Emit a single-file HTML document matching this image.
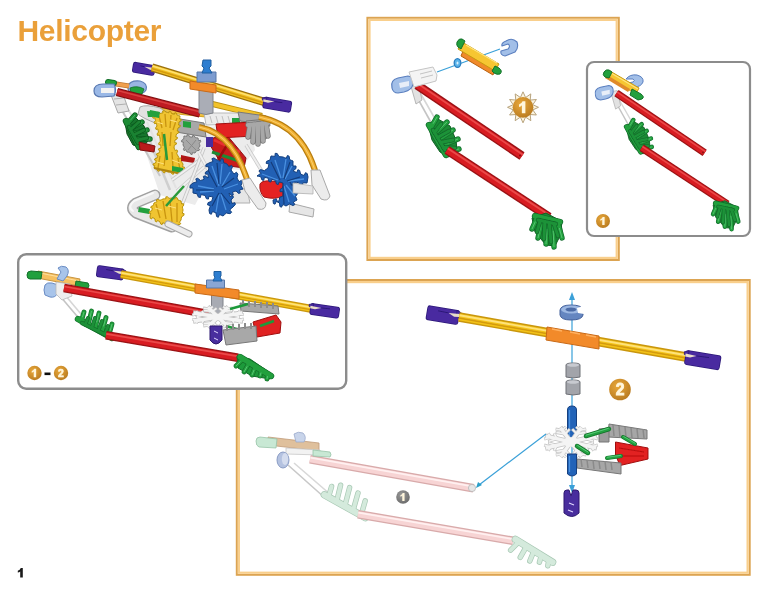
<!DOCTYPE html>
<html><head><meta charset="utf-8">
<style>
html,body{margin:0;padding:0;background:#fff;width:768px;height:593px;overflow:hidden;}
body{position:relative;font-family:"Liberation Sans",sans-serif;}
.title{position:absolute;left:17.5px;top:13.5px;font-size:30px;font-weight:bold;color:#eaa03a;letter-spacing:-0.3px;filter:blur(0.35px);}
.pg{position:absolute;left:17px;top:566px;font-size:13px;font-weight:bold;color:#222;}
svg{position:absolute;left:0;top:0;}
</style></head><body>
<svg width="768" height="593" viewBox="0 0 768 593">
<defs>
<filter id="soft" x="-5%" y="-5%" width="110%" height="110%"><feGaussianBlur stdDeviation="0.7"/></filter>
<radialGradient id="bgold" cx="0.4" cy="0.35" r="0.7"><stop offset="0" stop-color="#e9a83a"/><stop offset="1" stop-color="#b87a20"/></radialGradient>
<radialGradient id="bgray" cx="0.4" cy="0.35" r="0.7"><stop offset="0" stop-color="#9a9a9a"/><stop offset="1" stop-color="#6a6a6a"/></radialGradient>
</defs>
<rect x="236.8" y="280" width="512.9" height="294.8" fill="none" stroke="#dca452" stroke-width="2"/><rect x="238.9" y="282.1" width="508.7" height="290.6" fill="none" stroke="#f9cf8c" stroke-width="2.2"/>
<rect x="367.4" y="17.8" width="251.4" height="242.2" fill="none" stroke="#dca452" stroke-width="2"/><rect x="369.5" y="19.900000000000002" width="247.2" height="238.0" fill="none" stroke="#f9cf8c" stroke-width="2.2"/>
<g filter="url(#soft)"><line x1="413" y1="90" x2="433" y2="126" stroke="#c4c4c4" stroke-width="1.6"/>
<line x1="418" y1="89" x2="438" y2="124" stroke="#d6d6d6" stroke-width="1.6"/>
<path d="M410,83 L418,82 L422,100 L416,104 Z" fill="#e2e2e2" stroke="#a8a8a8" stroke-width="0.8" stroke-linejoin="round"/>
<line x1="417" y1="85" x2="522" y2="156" stroke="#9a1214" stroke-width="9" stroke-linecap="butt"/>
<line x1="417" y1="85" x2="522" y2="156" stroke="#d81e22" stroke-width="6.30" stroke-linecap="butt"/>
<line x1="417.9" y1="83.7" x2="522.9" y2="154.7" stroke="#ea4a4a" stroke-width="1.80"/>
<circle cx="520" cy="155.5" r="1" fill="#801010"/>
<path d="M428,124 L438,119 L450,126 L456,140 L457,150 L449,157 L440,152 L432,140 Z" fill="#1a8a34" stroke="#0f5e22" stroke-width="1" stroke-linejoin="round"/>
<line x1="429.0" y1="125.0" x2="446.0" y2="155.0" stroke="#11682a" stroke-width="6.4" stroke-linecap="round"/>
<line x1="430.7" y1="128.0" x2="437.0" y2="117.0" stroke="#11682a" stroke-width="5.4" stroke-linecap="round"/>
<line x1="434.1" y1="134.0" x2="447.0" y2="122.0" stroke="#11682a" stroke-width="5.4" stroke-linecap="round"/>
<line x1="437.5" y1="140.0" x2="453.0" y2="130.0" stroke="#11682a" stroke-width="5.4" stroke-linecap="round"/>
<line x1="440.9" y1="146.0" x2="458.0" y2="139.0" stroke="#11682a" stroke-width="5.4" stroke-linecap="round"/>
<line x1="444.3" y1="152.0" x2="459.0" y2="149.0" stroke="#11682a" stroke-width="5.4" stroke-linecap="round"/>
<line x1="429.0" y1="125.0" x2="446.0" y2="155.0" stroke="#22a03e" stroke-width="5.0" stroke-linecap="round"/>
<line x1="430.7" y1="128.0" x2="437.0" y2="117.0" stroke="#22a03e" stroke-width="4.0" stroke-linecap="round"/>
<line x1="434.1" y1="134.0" x2="447.0" y2="122.0" stroke="#22a03e" stroke-width="4.0" stroke-linecap="round"/>
<line x1="437.5" y1="140.0" x2="453.0" y2="130.0" stroke="#22a03e" stroke-width="4.0" stroke-linecap="round"/>
<line x1="440.9" y1="146.0" x2="458.0" y2="139.0" stroke="#22a03e" stroke-width="4.0" stroke-linecap="round"/>
<line x1="444.3" y1="152.0" x2="459.0" y2="149.0" stroke="#22a03e" stroke-width="4.0" stroke-linecap="round"/>
<line x1="433.2" y1="123.6" x2="437.0" y2="117.0" stroke="#5cc878" stroke-width="0.9"/>
<line x1="439.3" y1="129.2" x2="447.0" y2="122.0" stroke="#5cc878" stroke-width="0.9"/>
<line x1="443.7" y1="136.0" x2="453.0" y2="130.0" stroke="#5cc878" stroke-width="0.9"/>
<line x1="447.7" y1="143.2" x2="458.0" y2="139.0" stroke="#5cc878" stroke-width="0.9"/>
<line x1="450.2" y1="150.8" x2="459.0" y2="149.0" stroke="#5cc878" stroke-width="0.9"/>
<line x1="433.0" y1="130.0" x2="445.0" y2="150.0" stroke="#11682a" stroke-width="4.4" stroke-linecap="round"/>
<line x1="434.5" y1="132.5" x2="441.0" y2="124.0" stroke="#11682a" stroke-width="4.4" stroke-linecap="round"/>
<line x1="437.5" y1="137.5" x2="449.0" y2="131.0" stroke="#11682a" stroke-width="4.4" stroke-linecap="round"/>
<line x1="440.5" y1="142.5" x2="453.0" y2="140.0" stroke="#11682a" stroke-width="4.4" stroke-linecap="round"/>
<line x1="443.5" y1="147.5" x2="455.0" y2="148.0" stroke="#11682a" stroke-width="4.4" stroke-linecap="round"/>
<line x1="433.0" y1="130.0" x2="445.0" y2="150.0" stroke="#1d9238" stroke-width="3.0" stroke-linecap="round"/>
<line x1="434.5" y1="132.5" x2="441.0" y2="124.0" stroke="#1d9238" stroke-width="3.0" stroke-linecap="round"/>
<line x1="437.5" y1="137.5" x2="449.0" y2="131.0" stroke="#1d9238" stroke-width="3.0" stroke-linecap="round"/>
<line x1="440.5" y1="142.5" x2="453.0" y2="140.0" stroke="#1d9238" stroke-width="3.0" stroke-linecap="round"/>
<line x1="443.5" y1="147.5" x2="455.0" y2="148.0" stroke="#1d9238" stroke-width="3.0" stroke-linecap="round"/>
<line x1="447" y1="150" x2="549" y2="217" stroke="#9a1214" stroke-width="9" stroke-linecap="butt"/>
<line x1="447" y1="150" x2="549" y2="217" stroke="#d81e22" stroke-width="6.30" stroke-linecap="butt"/>
<line x1="447.9" y1="148.6" x2="549.9" y2="215.6" stroke="#ea4a4a" stroke-width="1.80"/>
<path d="M532,218 L546,213 L561,221 L562,232 L555,246 L546,245 L535,232 Z" fill="#1a8a34" stroke="#0f5e22" stroke-width="1" stroke-linejoin="round"/>
<line x1="535.0" y1="216.0" x2="560.0" y2="222.0" stroke="#11682a" stroke-width="6.4" stroke-linecap="round"/>
<line x1="537.5" y1="216.6" x2="532.0" y2="229.0" stroke="#11682a" stroke-width="5.4" stroke-linecap="round"/>
<line x1="542.5" y1="217.8" x2="538.0" y2="238.0" stroke="#11682a" stroke-width="5.4" stroke-linecap="round"/>
<line x1="547.5" y1="219.0" x2="546.0" y2="244.0" stroke="#11682a" stroke-width="5.4" stroke-linecap="round"/>
<line x1="552.5" y1="220.2" x2="554.0" y2="247.0" stroke="#11682a" stroke-width="5.4" stroke-linecap="round"/>
<line x1="557.5" y1="221.4" x2="562.0" y2="238.0" stroke="#11682a" stroke-width="5.4" stroke-linecap="round"/>
<line x1="535.0" y1="216.0" x2="560.0" y2="222.0" stroke="#22a03e" stroke-width="5.0" stroke-linecap="round"/>
<line x1="537.5" y1="216.6" x2="532.0" y2="229.0" stroke="#22a03e" stroke-width="4.0" stroke-linecap="round"/>
<line x1="542.5" y1="217.8" x2="538.0" y2="238.0" stroke="#22a03e" stroke-width="4.0" stroke-linecap="round"/>
<line x1="547.5" y1="219.0" x2="546.0" y2="244.0" stroke="#22a03e" stroke-width="4.0" stroke-linecap="round"/>
<line x1="552.5" y1="220.2" x2="554.0" y2="247.0" stroke="#22a03e" stroke-width="4.0" stroke-linecap="round"/>
<line x1="557.5" y1="221.4" x2="562.0" y2="238.0" stroke="#22a03e" stroke-width="4.0" stroke-linecap="round"/>
<line x1="535.3" y1="221.6" x2="532.0" y2="229.0" stroke="#5cc878" stroke-width="0.9"/>
<line x1="540.7" y1="225.9" x2="538.0" y2="238.0" stroke="#5cc878" stroke-width="0.9"/>
<line x1="546.9" y1="229.0" x2="546.0" y2="244.0" stroke="#5cc878" stroke-width="0.9"/>
<line x1="553.1" y1="230.9" x2="554.0" y2="247.0" stroke="#5cc878" stroke-width="0.9"/>
<line x1="559.3" y1="228.0" x2="562.0" y2="238.0" stroke="#5cc878" stroke-width="0.9"/>
<line x1="538.0" y1="220.0" x2="556.0" y2="224.0" stroke="#11682a" stroke-width="4.4" stroke-linecap="round"/>
<line x1="540.2" y1="220.5" x2="537.0" y2="232.0" stroke="#11682a" stroke-width="4.4" stroke-linecap="round"/>
<line x1="544.8" y1="221.5" x2="544.0" y2="239.0" stroke="#11682a" stroke-width="4.4" stroke-linecap="round"/>
<line x1="549.2" y1="222.5" x2="551.0" y2="242.0" stroke="#11682a" stroke-width="4.4" stroke-linecap="round"/>
<line x1="553.8" y1="223.5" x2="558.0" y2="236.0" stroke="#11682a" stroke-width="4.4" stroke-linecap="round"/>
<line x1="538.0" y1="220.0" x2="556.0" y2="224.0" stroke="#1d9238" stroke-width="3.0" stroke-linecap="round"/>
<line x1="540.2" y1="220.5" x2="537.0" y2="232.0" stroke="#1d9238" stroke-width="3.0" stroke-linecap="round"/>
<line x1="544.8" y1="221.5" x2="544.0" y2="239.0" stroke="#1d9238" stroke-width="3.0" stroke-linecap="round"/>
<line x1="549.2" y1="222.5" x2="551.0" y2="242.0" stroke="#1d9238" stroke-width="3.0" stroke-linecap="round"/>
<line x1="553.8" y1="223.5" x2="558.0" y2="236.0" stroke="#1d9238" stroke-width="3.0" stroke-linecap="round"/>
<path d="M392,88 Q390,80 398,78 L408,76 Q414,77 413,84 Q412,90 404,92 L398,93 Q393,93 392,88 Z" fill="#a2bfe8" stroke="#5a7fbf" stroke-width="1.2" stroke-linejoin="round"/>
<path d="M399,83 L409,81 L409,86 L400,88 Z" fill="#e8eef8"/>
<line x1="437" y1="72" x2="500" y2="49" stroke="#3aa0d8" stroke-width="1.3"/>
<path d="M409,72 L433,67 L437,75 L436,81 L414,87 Z" fill="#f4f4f4" stroke="#c4c4c4" stroke-width="1" stroke-linejoin="round"/>
<path d="M420,74 L432,71 M421,78 L433,75" fill="none" stroke="#b8b8b8" stroke-width="0.8" stroke-linejoin="round"/>
<ellipse cx="457.5" cy="63" rx="3.3" ry="4.3" fill="#5ab4ea" stroke="#2a7ec0" stroke-width="1.3"/>
<ellipse cx="457.5" cy="63" rx="1" ry="1.6" fill="#d8f0ff"/>
<path d="M463,51 L495,70 L493,75 L461,56 Z" fill="#f08a2a" stroke="#b86010" stroke-width="1" stroke-linejoin="round"/>
<path d="M462,42 L499,64 L495,71 L458,49 Z" fill="#f6c630" stroke="#c89a10" stroke-width="1" stroke-linejoin="round"/>
<path d="M466,45 L497,63" fill="none" stroke="#ffe480" stroke-width="1.2" stroke-linejoin="round"/>
<path d="M457,42 Q459,38 462,39 L465,41 L461,49 L458,47 Q456,45 457,42 Z" fill="#22a03c" stroke="#13702a" stroke-width="1" stroke-linejoin="round"/>
<path d="M495,66 L499,68 Q503,71 500,74 Q497,75 494,73 L492,71 Z" fill="#22a03c" stroke="#13702a" stroke-width="1" stroke-linejoin="round"/>
<path d="M506,41 Q512,37 517,42 Q519,48 515,52 L505,56 Q500,55 501,51 L508,49 Q511,46 508,44 L502,46 Q501,43 506,41 Z" fill="#a2bfe8" stroke="#5a7fbf" stroke-width="1.1" stroke-linejoin="round"/>
<polygon points="523.0,91.8 525.6,97.5 530.8,93.9 530.2,100.1 536.4,99.5 532.8,104.7 538.5,107.3 532.8,109.9 536.4,115.0 530.2,114.5 530.8,120.7 525.6,117.1 523.0,122.8 520.4,117.1 515.2,120.7 515.8,114.5 509.6,115.0 513.2,109.9 507.5,107.3 513.2,104.7 509.6,99.5 515.8,100.1 515.2,93.9 520.4,97.5" fill="#fbf3de" stroke="#b09a70" stroke-width="0.9" stroke-linejoin="round"/>
<circle cx="523" cy="107.3" r="10.4" fill="url(#bgold)"/>
<path d="M521.86,113.33 L525.39,113.33 L525.39,101.27 L522.56,101.27 Q521.33,103.98 519.03,104.59 L519.03,107.00 Q520.80,106.70 521.86,105.19 Z" fill="#fff6dc"/>
</g>
<rect x="587" y="62" width="163" height="174" rx="7" fill="#fff" stroke="#8c8c8c" stroke-width="2.2"/>
<g filter="url(#soft)">
<g transform="translate(619,94) scale(0.84) translate(-420,-86)">
<line x1="413" y1="90" x2="433" y2="126" stroke="#c4c4c4" stroke-width="1.6"/>
<line x1="418" y1="89" x2="438" y2="124" stroke="#d6d6d6" stroke-width="1.6"/>
<path d="M410,83 L418,82 L422,100 L416,104 Z" fill="#e2e2e2" stroke="#a8a8a8" stroke-width="0.8" stroke-linejoin="round"/>
<line x1="417" y1="85" x2="522" y2="156" stroke="#9a1214" stroke-width="9" stroke-linecap="butt"/>
<line x1="417" y1="85" x2="522" y2="156" stroke="#d81e22" stroke-width="6.30" stroke-linecap="butt"/>
<line x1="417.9" y1="83.7" x2="522.9" y2="154.7" stroke="#ea4a4a" stroke-width="1.80"/>
<circle cx="520" cy="155.5" r="1" fill="#801010"/>
<path d="M428,124 L438,119 L450,126 L456,140 L457,150 L449,157 L440,152 L432,140 Z" fill="#1a8a34" stroke="#0f5e22" stroke-width="1" stroke-linejoin="round"/>
<line x1="429.0" y1="125.0" x2="446.0" y2="155.0" stroke="#11682a" stroke-width="6.4" stroke-linecap="round"/>
<line x1="430.7" y1="128.0" x2="437.0" y2="117.0" stroke="#11682a" stroke-width="5.4" stroke-linecap="round"/>
<line x1="434.1" y1="134.0" x2="447.0" y2="122.0" stroke="#11682a" stroke-width="5.4" stroke-linecap="round"/>
<line x1="437.5" y1="140.0" x2="453.0" y2="130.0" stroke="#11682a" stroke-width="5.4" stroke-linecap="round"/>
<line x1="440.9" y1="146.0" x2="458.0" y2="139.0" stroke="#11682a" stroke-width="5.4" stroke-linecap="round"/>
<line x1="444.3" y1="152.0" x2="459.0" y2="149.0" stroke="#11682a" stroke-width="5.4" stroke-linecap="round"/>
<line x1="429.0" y1="125.0" x2="446.0" y2="155.0" stroke="#22a03e" stroke-width="5.0" stroke-linecap="round"/>
<line x1="430.7" y1="128.0" x2="437.0" y2="117.0" stroke="#22a03e" stroke-width="4.0" stroke-linecap="round"/>
<line x1="434.1" y1="134.0" x2="447.0" y2="122.0" stroke="#22a03e" stroke-width="4.0" stroke-linecap="round"/>
<line x1="437.5" y1="140.0" x2="453.0" y2="130.0" stroke="#22a03e" stroke-width="4.0" stroke-linecap="round"/>
<line x1="440.9" y1="146.0" x2="458.0" y2="139.0" stroke="#22a03e" stroke-width="4.0" stroke-linecap="round"/>
<line x1="444.3" y1="152.0" x2="459.0" y2="149.0" stroke="#22a03e" stroke-width="4.0" stroke-linecap="round"/>
<line x1="433.2" y1="123.6" x2="437.0" y2="117.0" stroke="#5cc878" stroke-width="0.9"/>
<line x1="439.3" y1="129.2" x2="447.0" y2="122.0" stroke="#5cc878" stroke-width="0.9"/>
<line x1="443.7" y1="136.0" x2="453.0" y2="130.0" stroke="#5cc878" stroke-width="0.9"/>
<line x1="447.7" y1="143.2" x2="458.0" y2="139.0" stroke="#5cc878" stroke-width="0.9"/>
<line x1="450.2" y1="150.8" x2="459.0" y2="149.0" stroke="#5cc878" stroke-width="0.9"/>
<line x1="433.0" y1="130.0" x2="445.0" y2="150.0" stroke="#11682a" stroke-width="4.4" stroke-linecap="round"/>
<line x1="434.5" y1="132.5" x2="441.0" y2="124.0" stroke="#11682a" stroke-width="4.4" stroke-linecap="round"/>
<line x1="437.5" y1="137.5" x2="449.0" y2="131.0" stroke="#11682a" stroke-width="4.4" stroke-linecap="round"/>
<line x1="440.5" y1="142.5" x2="453.0" y2="140.0" stroke="#11682a" stroke-width="4.4" stroke-linecap="round"/>
<line x1="443.5" y1="147.5" x2="455.0" y2="148.0" stroke="#11682a" stroke-width="4.4" stroke-linecap="round"/>
<line x1="433.0" y1="130.0" x2="445.0" y2="150.0" stroke="#1d9238" stroke-width="3.0" stroke-linecap="round"/>
<line x1="434.5" y1="132.5" x2="441.0" y2="124.0" stroke="#1d9238" stroke-width="3.0" stroke-linecap="round"/>
<line x1="437.5" y1="137.5" x2="449.0" y2="131.0" stroke="#1d9238" stroke-width="3.0" stroke-linecap="round"/>
<line x1="440.5" y1="142.5" x2="453.0" y2="140.0" stroke="#1d9238" stroke-width="3.0" stroke-linecap="round"/>
<line x1="443.5" y1="147.5" x2="455.0" y2="148.0" stroke="#1d9238" stroke-width="3.0" stroke-linecap="round"/>
<line x1="447" y1="150" x2="549" y2="217" stroke="#9a1214" stroke-width="9" stroke-linecap="butt"/>
<line x1="447" y1="150" x2="549" y2="217" stroke="#d81e22" stroke-width="6.30" stroke-linecap="butt"/>
<line x1="447.9" y1="148.6" x2="549.9" y2="215.6" stroke="#ea4a4a" stroke-width="1.80"/>
<path d="M532,218 L546,213 L561,221 L562,232 L555,246 L546,245 L535,232 Z" fill="#1a8a34" stroke="#0f5e22" stroke-width="1" stroke-linejoin="round"/>
<line x1="535.0" y1="216.0" x2="560.0" y2="222.0" stroke="#11682a" stroke-width="6.4" stroke-linecap="round"/>
<line x1="537.5" y1="216.6" x2="532.0" y2="229.0" stroke="#11682a" stroke-width="5.4" stroke-linecap="round"/>
<line x1="542.5" y1="217.8" x2="538.0" y2="238.0" stroke="#11682a" stroke-width="5.4" stroke-linecap="round"/>
<line x1="547.5" y1="219.0" x2="546.0" y2="244.0" stroke="#11682a" stroke-width="5.4" stroke-linecap="round"/>
<line x1="552.5" y1="220.2" x2="554.0" y2="247.0" stroke="#11682a" stroke-width="5.4" stroke-linecap="round"/>
<line x1="557.5" y1="221.4" x2="562.0" y2="238.0" stroke="#11682a" stroke-width="5.4" stroke-linecap="round"/>
<line x1="535.0" y1="216.0" x2="560.0" y2="222.0" stroke="#22a03e" stroke-width="5.0" stroke-linecap="round"/>
<line x1="537.5" y1="216.6" x2="532.0" y2="229.0" stroke="#22a03e" stroke-width="4.0" stroke-linecap="round"/>
<line x1="542.5" y1="217.8" x2="538.0" y2="238.0" stroke="#22a03e" stroke-width="4.0" stroke-linecap="round"/>
<line x1="547.5" y1="219.0" x2="546.0" y2="244.0" stroke="#22a03e" stroke-width="4.0" stroke-linecap="round"/>
<line x1="552.5" y1="220.2" x2="554.0" y2="247.0" stroke="#22a03e" stroke-width="4.0" stroke-linecap="round"/>
<line x1="557.5" y1="221.4" x2="562.0" y2="238.0" stroke="#22a03e" stroke-width="4.0" stroke-linecap="round"/>
<line x1="535.3" y1="221.6" x2="532.0" y2="229.0" stroke="#5cc878" stroke-width="0.9"/>
<line x1="540.7" y1="225.9" x2="538.0" y2="238.0" stroke="#5cc878" stroke-width="0.9"/>
<line x1="546.9" y1="229.0" x2="546.0" y2="244.0" stroke="#5cc878" stroke-width="0.9"/>
<line x1="553.1" y1="230.9" x2="554.0" y2="247.0" stroke="#5cc878" stroke-width="0.9"/>
<line x1="559.3" y1="228.0" x2="562.0" y2="238.0" stroke="#5cc878" stroke-width="0.9"/>
<line x1="538.0" y1="220.0" x2="556.0" y2="224.0" stroke="#11682a" stroke-width="4.4" stroke-linecap="round"/>
<line x1="540.2" y1="220.5" x2="537.0" y2="232.0" stroke="#11682a" stroke-width="4.4" stroke-linecap="round"/>
<line x1="544.8" y1="221.5" x2="544.0" y2="239.0" stroke="#11682a" stroke-width="4.4" stroke-linecap="round"/>
<line x1="549.2" y1="222.5" x2="551.0" y2="242.0" stroke="#11682a" stroke-width="4.4" stroke-linecap="round"/>
<line x1="553.8" y1="223.5" x2="558.0" y2="236.0" stroke="#11682a" stroke-width="4.4" stroke-linecap="round"/>
<line x1="538.0" y1="220.0" x2="556.0" y2="224.0" stroke="#1d9238" stroke-width="3.0" stroke-linecap="round"/>
<line x1="540.2" y1="220.5" x2="537.0" y2="232.0" stroke="#1d9238" stroke-width="3.0" stroke-linecap="round"/>
<line x1="544.8" y1="221.5" x2="544.0" y2="239.0" stroke="#1d9238" stroke-width="3.0" stroke-linecap="round"/>
<line x1="549.2" y1="222.5" x2="551.0" y2="242.0" stroke="#1d9238" stroke-width="3.0" stroke-linecap="round"/>
<line x1="553.8" y1="223.5" x2="558.0" y2="236.0" stroke="#1d9238" stroke-width="3.0" stroke-linecap="round"/>
<path d="M392,88 Q390,80 398,78 L408,76 Q414,77 413,84 Q412,90 404,92 L398,93 Q393,93 392,88 Z" fill="#a2bfe8" stroke="#5a7fbf" stroke-width="1.2" stroke-linejoin="round"/>
<path d="M399,83 L409,81 L409,86 L400,88 Z" fill="#e8eef8"/>
</g>
<path d="M626,79 Q630,74 637,75 Q644,77 643,82 Q641,87 634,87 L626,85 Q629,82 633,82 Q636,81 633,79 Z" fill="#a2bfe8" stroke="#5a7fbf" stroke-width="1" stroke-linejoin="round"/>
<path d="M610,71 L639,88 L636,94 L607,77 Z" fill="#f6c630" stroke="#c89a10" stroke-width="1" stroke-linejoin="round"/>
<path d="M611,73 L638,89" fill="none" stroke="#ffe480" stroke-width="1.1" stroke-linejoin="round"/>
<path d="M607,75 L630,89 L628,92 L605,78 Z" fill="#e08a2a"/>
<path d="M604,72 Q606,69 609,70 L612,72 L609,78 L605,77 Q602,75 604,72 Z" fill="#22a03c" stroke="#13702a" stroke-width="1" stroke-linejoin="round"/>
<path d="M632,89 L641,94 Q645,97 642,99 L638,100 L630,95 Z" fill="#22a03c" stroke="#13702a" stroke-width="1" stroke-linejoin="round"/>
<circle cx="603" cy="221" r="7" fill="url(#bgold)"/>
<path d="M602.23,225.06 L604.61,225.06 L604.61,216.94 L602.71,216.94 Q601.87,218.77 600.33,219.17 L600.33,220.80 Q601.52,220.59 602.23,219.58 Z" fill="#fff6dc"/>
</g>
<rect x="18.2" y="254.2" width="328" height="134.6" rx="8" fill="#fff" stroke="#8c8c8c" stroke-width="2.4"/>
<g filter="url(#soft)">
<line x1="60" y1="296" x2="82" y2="322" stroke="#c4c4c4" stroke-width="1.6"/>
<line x1="65" y1="295" x2="86" y2="320" stroke="#d6d6d6" stroke-width="1.6"/>
<path d="M38,271 L80,279 L79,286 L37,278 Z" fill="#f6c060" stroke="#c89440" stroke-width="1" stroke-linejoin="round"/>
<path d="M40,273 L79,281" fill="none" stroke="#ffe0a0" stroke-width="1" stroke-linejoin="round"/>
<path d="M27,275 Q27,271 31,271 L42,272 L41,279 L30,279 Q27,279 27,275 Z" fill="#22a03c" stroke="#13702a" stroke-width="1" stroke-linejoin="round"/>
<path d="M76,281 L88,283 Q90,286 88,288 L75,287 Z" fill="#22a03c" stroke="#13702a" stroke-width="1" stroke-linejoin="round"/>
<path d="M58,268 Q61,265 66,267 Q70,270 67,276 L63,281 L57,279 Q59,275 61,272 Z" fill="#a8c4ea" stroke="#6a8cc4" stroke-width="1" stroke-linejoin="round"/>
<path d="M45,285 Q47,282 52,283 L58,285 L57,294 Q55,298 50,297 L45,295 Q43,290 45,285 Z" fill="#a8c4ea" stroke="#6a8cc4" stroke-width="1" stroke-linejoin="round"/>
<path d="M56,282 L70,284 L72,296 L62,300 L56,294 Z" fill="#eeeeee" stroke="#b8b8b8" stroke-width="0.8" stroke-linejoin="round"/>
<line x1="64" y1="288" x2="208" y2="314" stroke="#9a1214" stroke-width="8.5" stroke-linecap="butt"/>
<line x1="64" y1="288" x2="208" y2="314" stroke="#d81e22" stroke-width="5.95" stroke-linecap="butt"/>
<line x1="64.3" y1="286.5" x2="208.3" y2="312.5" stroke="#ea4a4a" stroke-width="1.70"/>
<line x1="78.0" y1="319.0" x2="112.0" y2="338.0" stroke="#12702a" stroke-width="6.4" stroke-linecap="round"/>
<line x1="81.4" y1="320.9" x2="84.0" y2="312.0" stroke="#12702a" stroke-width="4.8" stroke-linecap="round"/>
<line x1="88.2" y1="324.7" x2="91.5" y2="311.0" stroke="#12702a" stroke-width="4.8" stroke-linecap="round"/>
<line x1="95.0" y1="328.5" x2="99.0" y2="313.0" stroke="#12702a" stroke-width="4.8" stroke-linecap="round"/>
<line x1="101.8" y1="332.3" x2="106.0" y2="317.5" stroke="#12702a" stroke-width="4.8" stroke-linecap="round"/>
<line x1="108.6" y1="336.1" x2="112.0" y2="324.0" stroke="#12702a" stroke-width="4.8" stroke-linecap="round"/>
<line x1="78.0" y1="319.0" x2="112.0" y2="338.0" stroke="#23a03e" stroke-width="5.0" stroke-linecap="round"/>
<line x1="81.4" y1="320.9" x2="84.0" y2="312.0" stroke="#23a03e" stroke-width="3.4" stroke-linecap="round"/>
<line x1="88.2" y1="324.7" x2="91.5" y2="311.0" stroke="#23a03e" stroke-width="3.4" stroke-linecap="round"/>
<line x1="95.0" y1="328.5" x2="99.0" y2="313.0" stroke="#23a03e" stroke-width="3.4" stroke-linecap="round"/>
<line x1="101.8" y1="332.3" x2="106.0" y2="317.5" stroke="#23a03e" stroke-width="3.4" stroke-linecap="round"/>
<line x1="108.6" y1="336.1" x2="112.0" y2="324.0" stroke="#23a03e" stroke-width="3.4" stroke-linecap="round"/>
<line x1="82.4" y1="317.3" x2="84.0" y2="312.0" stroke="#5cc878" stroke-width="0.9"/>
<line x1="89.5" y1="319.2" x2="91.5" y2="311.0" stroke="#5cc878" stroke-width="0.9"/>
<line x1="96.6" y1="322.3" x2="99.0" y2="313.0" stroke="#5cc878" stroke-width="0.9"/>
<line x1="103.5" y1="326.4" x2="106.0" y2="317.5" stroke="#5cc878" stroke-width="0.9"/>
<line x1="110.0" y1="331.3" x2="112.0" y2="324.0" stroke="#5cc878" stroke-width="0.9"/>
<line x1="82.0" y1="323.0" x2="108.0" y2="336.0" stroke="#12702a" stroke-width="4.4" stroke-linecap="round"/>
<line x1="85.2" y1="324.6" x2="88.0" y2="318.0" stroke="#12702a" stroke-width="4.0" stroke-linecap="round"/>
<line x1="91.8" y1="327.9" x2="95.0" y2="318.0" stroke="#12702a" stroke-width="4.0" stroke-linecap="round"/>
<line x1="98.2" y1="331.1" x2="102.0" y2="321.0" stroke="#12702a" stroke-width="4.0" stroke-linecap="round"/>
<line x1="104.8" y1="334.4" x2="108.0" y2="326.0" stroke="#12702a" stroke-width="4.0" stroke-linecap="round"/>
<line x1="82.0" y1="323.0" x2="108.0" y2="336.0" stroke="#1d9038" stroke-width="3.0" stroke-linecap="round"/>
<line x1="85.2" y1="324.6" x2="88.0" y2="318.0" stroke="#1d9038" stroke-width="2.6" stroke-linecap="round"/>
<line x1="91.8" y1="327.9" x2="95.0" y2="318.0" stroke="#1d9038" stroke-width="2.6" stroke-linecap="round"/>
<line x1="98.2" y1="331.1" x2="102.0" y2="321.0" stroke="#1d9038" stroke-width="2.6" stroke-linecap="round"/>
<line x1="104.8" y1="334.4" x2="108.0" y2="326.0" stroke="#1d9038" stroke-width="2.6" stroke-linecap="round"/>
<line x1="106" y1="335.3" x2="238" y2="357.8" stroke="#9a1214" stroke-width="8.5" stroke-linecap="butt"/>
<line x1="106" y1="335.3" x2="238" y2="357.8" stroke="#d81e22" stroke-width="5.95" stroke-linecap="butt"/>
<line x1="106.3" y1="333.8" x2="238.3" y2="356.3" stroke="#ea4a4a" stroke-width="1.70"/>
<path d="M237,356 L250,359 L272,374 L270,379 L252,376 L238,368 Z" fill="#1f9a3a" stroke="#116a26" stroke-width="1" stroke-linejoin="round"/>
<line x1="240.0" y1="357.0" x2="271.0" y2="376.0" stroke="#12702a" stroke-width="6.4" stroke-linecap="round"/>
<line x1="243.1" y1="358.9" x2="236.0" y2="366.0" stroke="#12702a" stroke-width="4.8" stroke-linecap="round"/>
<line x1="249.3" y1="362.7" x2="244.0" y2="372.0" stroke="#12702a" stroke-width="4.8" stroke-linecap="round"/>
<line x1="255.5" y1="366.5" x2="252.0" y2="375.0" stroke="#12702a" stroke-width="4.8" stroke-linecap="round"/>
<line x1="261.7" y1="370.3" x2="260.0" y2="376.0" stroke="#12702a" stroke-width="4.8" stroke-linecap="round"/>
<line x1="267.9" y1="374.1" x2="267.0" y2="379.0" stroke="#12702a" stroke-width="4.8" stroke-linecap="round"/>
<line x1="240.0" y1="357.0" x2="271.0" y2="376.0" stroke="#23a03e" stroke-width="5.0" stroke-linecap="round"/>
<line x1="243.1" y1="358.9" x2="236.0" y2="366.0" stroke="#23a03e" stroke-width="3.4" stroke-linecap="round"/>
<line x1="249.3" y1="362.7" x2="244.0" y2="372.0" stroke="#23a03e" stroke-width="3.4" stroke-linecap="round"/>
<line x1="255.5" y1="366.5" x2="252.0" y2="375.0" stroke="#23a03e" stroke-width="3.4" stroke-linecap="round"/>
<line x1="261.7" y1="370.3" x2="260.0" y2="376.0" stroke="#23a03e" stroke-width="3.4" stroke-linecap="round"/>
<line x1="267.9" y1="374.1" x2="267.0" y2="379.0" stroke="#23a03e" stroke-width="3.4" stroke-linecap="round"/>
<line x1="240.3" y1="361.7" x2="236.0" y2="366.0" stroke="#5cc878" stroke-width="0.9"/>
<line x1="247.2" y1="366.4" x2="244.0" y2="372.0" stroke="#5cc878" stroke-width="0.9"/>
<line x1="254.1" y1="369.9" x2="252.0" y2="375.0" stroke="#5cc878" stroke-width="0.9"/>
<line x1="261.0" y1="372.6" x2="260.0" y2="376.0" stroke="#5cc878" stroke-width="0.9"/>
<line x1="267.5" y1="376.1" x2="267.0" y2="379.0" stroke="#5cc878" stroke-width="0.9"/>
<polygon points="99.6,268.0 121.8,271.1 120.9,277.7 98.7,274.6" fill="#4a2ca0" stroke="#2c1878" stroke-width="5.4" stroke-linejoin="round"/>
<polygon points="99.6,268.0 121.8,271.1 120.9,277.7 98.7,274.6" fill="#4a2ca0" stroke="#4a2ca0" stroke-width="3.8" stroke-linejoin="round"/>
<polygon points="121.8,268.9 126.0,270.9 125.2,273.0 121.2,272.7" fill="#4a2ca0" stroke="#2c1878" stroke-width="0.8"/>
<polygon points="113.4,270.8 124.4,271.8 124.1,274.2 119.1,273.8" fill="#e8dcc8"/>
<line x1="106.1" y1="269.5" x2="113.4" y2="270.8" stroke="#2c1878" stroke-width="1"/>
<line x1="121" y1="274.3" x2="312" y2="309" stroke="#c9960e" stroke-width="8" stroke-linecap="butt"/>
<line x1="121" y1="274.3" x2="312" y2="309" stroke="#f3c318" stroke-width="5.60" stroke-linecap="butt"/>
<line x1="120.8" y1="275.2" x2="311.8" y2="309.9" stroke="#d49a10" stroke-width="1.28"/>
<line x1="121.3" y1="272.9" x2="312.3" y2="307.6" stroke="#ffe27a" stroke-width="1.60"/>
<polygon points="337.3,309.4 313.1,305.8 312.2,312.4 336.3,315.9" fill="#4a2ca0" stroke="#2c1878" stroke-width="5.4" stroke-linejoin="round"/>
<polygon points="337.3,309.4 313.1,305.8 312.2,312.4 336.3,315.9" fill="#4a2ca0" stroke="#4a2ca0" stroke-width="3.8" stroke-linejoin="round"/>
<polygon points="313.8,303.7 309.1,304.4 309.3,306.7 313.2,307.5" fill="#4a2ca0" stroke="#2c1878" stroke-width="0.8"/>
<polygon points="321.3,307.9 310.5,305.7 310.1,308.2 315.0,309.2" fill="#e8dcc8"/>
<line x1="330.0" y1="308.9" x2="321.3" y2="307.9" stroke="#2c1878" stroke-width="1"/>
<path d="M240,303 L278,306 L279,314 L241,311 Z" fill="#a8a8a8" stroke="#787878" stroke-width="1" stroke-linejoin="round"/>
<path d="M243,300 L243,306 M249,301 L249,307 M255,301 L255,307 M261,302 L261,308 M267,302 L267,308 M273,303 L273,309" fill="none" stroke="#8c8c8c" stroke-width="2" stroke-linejoin="round"/>
<path d="M253,322 L276,315 L281,322 L280,333 L257,337 Z" fill="#e02020" stroke="#a01010" stroke-width="1" stroke-linejoin="round"/>
<path d="M260,326 L274,321" fill="none" stroke="#1f9a3a" stroke-width="2.5" stroke-linejoin="round"/>
<path d="M211.5,292 L223,292 L223,314 L211.5,314 Z" fill="#a8abb3" stroke="#80838a" stroke-width="1" stroke-linejoin="round"/>
<line x1="218" y1="317" x2="243.0" y2="321.2" stroke="#c0c0c0" stroke-width="5"/>
<line x1="231.7" y1="319.3" x2="234.4" y2="323.0" stroke="#c0c0c0" stroke-width="3"/>
<line x1="231.7" y1="319.3" x2="240.0" y2="317.4" stroke="#c0c0c0" stroke-width="3"/>
<line x1="238.0" y1="320.3" x2="239.8" y2="323.0" stroke="#c0c0c0" stroke-width="3"/>
<line x1="238.0" y1="320.3" x2="243.9" y2="319.0" stroke="#c0c0c0" stroke-width="3"/>
<line x1="218" y1="317" x2="228.4" y2="327.2" stroke="#c0c0c0" stroke-width="5"/>
<line x1="223.7" y1="322.6" x2="219.2" y2="326.0" stroke="#c0c0c0" stroke-width="3"/>
<line x1="223.7" y1="322.6" x2="232.8" y2="323.6" stroke="#c0c0c0" stroke-width="3"/>
<line x1="226.3" y1="325.1" x2="223.1" y2="327.5" stroke="#c0c0c0" stroke-width="3"/>
<line x1="226.3" y1="325.1" x2="232.8" y2="325.9" stroke="#c0c0c0" stroke-width="3"/>
<line x1="218" y1="317" x2="207.7" y2="327.2" stroke="#c0c0c0" stroke-width="5"/>
<line x1="212.4" y1="322.6" x2="203.3" y2="323.7" stroke="#c0c0c0" stroke-width="3"/>
<line x1="212.4" y1="322.6" x2="217.0" y2="326.0" stroke="#c0c0c0" stroke-width="3"/>
<line x1="209.8" y1="325.1" x2="203.3" y2="325.9" stroke="#c0c0c0" stroke-width="3"/>
<line x1="209.8" y1="325.1" x2="213.1" y2="327.5" stroke="#c0c0c0" stroke-width="3"/>
<line x1="218" y1="317" x2="193.1" y2="321.2" stroke="#c0c0c0" stroke-width="5"/>
<line x1="204.3" y1="319.3" x2="196.0" y2="317.5" stroke="#c0c0c0" stroke-width="3"/>
<line x1="204.3" y1="319.3" x2="201.7" y2="323.0" stroke="#c0c0c0" stroke-width="3"/>
<line x1="198.1" y1="320.4" x2="192.2" y2="319.1" stroke="#c0c0c0" stroke-width="3"/>
<line x1="198.1" y1="320.4" x2="196.2" y2="323.0" stroke="#c0c0c0" stroke-width="3"/>
<line x1="218" y1="317" x2="193.0" y2="312.8" stroke="#c0c0c0" stroke-width="5"/>
<line x1="204.3" y1="314.7" x2="201.6" y2="311.0" stroke="#c0c0c0" stroke-width="3"/>
<line x1="204.3" y1="314.7" x2="196.0" y2="316.6" stroke="#c0c0c0" stroke-width="3"/>
<line x1="198.0" y1="313.7" x2="196.2" y2="311.0" stroke="#c0c0c0" stroke-width="3"/>
<line x1="198.0" y1="313.7" x2="192.1" y2="315.0" stroke="#c0c0c0" stroke-width="3"/>
<line x1="218" y1="317" x2="207.6" y2="306.8" stroke="#c0c0c0" stroke-width="5"/>
<line x1="212.3" y1="311.4" x2="216.8" y2="308.0" stroke="#c0c0c0" stroke-width="3"/>
<line x1="212.3" y1="311.4" x2="203.2" y2="310.4" stroke="#c0c0c0" stroke-width="3"/>
<line x1="209.7" y1="308.9" x2="212.9" y2="306.5" stroke="#c0c0c0" stroke-width="3"/>
<line x1="209.7" y1="308.9" x2="203.2" y2="308.1" stroke="#c0c0c0" stroke-width="3"/>
<line x1="218" y1="317" x2="228.3" y2="306.8" stroke="#c0c0c0" stroke-width="5"/>
<line x1="223.6" y1="311.4" x2="232.7" y2="310.3" stroke="#c0c0c0" stroke-width="3"/>
<line x1="223.6" y1="311.4" x2="219.0" y2="308.0" stroke="#c0c0c0" stroke-width="3"/>
<line x1="226.2" y1="308.9" x2="232.7" y2="308.1" stroke="#c0c0c0" stroke-width="3"/>
<line x1="226.2" y1="308.9" x2="222.9" y2="306.5" stroke="#c0c0c0" stroke-width="3"/>
<line x1="218" y1="317" x2="242.9" y2="312.8" stroke="#c0c0c0" stroke-width="5"/>
<line x1="231.7" y1="314.7" x2="240.0" y2="316.5" stroke="#c0c0c0" stroke-width="3"/>
<line x1="231.7" y1="314.7" x2="234.3" y2="311.0" stroke="#c0c0c0" stroke-width="3"/>
<line x1="237.9" y1="313.6" x2="243.8" y2="314.9" stroke="#c0c0c0" stroke-width="3"/>
<line x1="237.9" y1="313.6" x2="239.8" y2="311.0" stroke="#c0c0c0" stroke-width="3"/>
<line x1="218" y1="317" x2="242.2" y2="321.1" stroke="#f4f4f4" stroke-width="3.4"/>
<line x1="231.7" y1="319.3" x2="234.1" y2="322.7" stroke="#f4f4f4" stroke-width="1.6"/>
<line x1="231.7" y1="319.3" x2="239.3" y2="317.6" stroke="#f4f4f4" stroke-width="1.6"/>
<line x1="238.0" y1="320.3" x2="239.7" y2="322.8" stroke="#f4f4f4" stroke-width="1.6"/>
<line x1="238.0" y1="320.3" x2="243.4" y2="319.1" stroke="#f4f4f4" stroke-width="1.6"/>
<line x1="218" y1="317" x2="228.1" y2="326.8" stroke="#f4f4f4" stroke-width="3.4"/>
<line x1="223.7" y1="322.6" x2="219.5" y2="325.7" stroke="#f4f4f4" stroke-width="1.6"/>
<line x1="223.7" y1="322.6" x2="232.1" y2="323.5" stroke="#f4f4f4" stroke-width="1.6"/>
<line x1="226.3" y1="325.1" x2="223.3" y2="327.3" stroke="#f4f4f4" stroke-width="1.6"/>
<line x1="226.3" y1="325.1" x2="232.3" y2="325.8" stroke="#f4f4f4" stroke-width="1.6"/>
<line x1="218" y1="317" x2="208.0" y2="326.9" stroke="#f4f4f4" stroke-width="3.4"/>
<line x1="212.4" y1="322.6" x2="204.0" y2="323.6" stroke="#f4f4f4" stroke-width="1.6"/>
<line x1="212.4" y1="322.6" x2="216.6" y2="325.7" stroke="#f4f4f4" stroke-width="1.6"/>
<line x1="209.8" y1="325.1" x2="203.8" y2="325.8" stroke="#f4f4f4" stroke-width="1.6"/>
<line x1="209.8" y1="325.1" x2="212.8" y2="327.3" stroke="#f4f4f4" stroke-width="1.6"/>
<line x1="218" y1="317" x2="193.8" y2="321.1" stroke="#f4f4f4" stroke-width="3.4"/>
<line x1="204.3" y1="319.3" x2="196.7" y2="317.6" stroke="#f4f4f4" stroke-width="1.6"/>
<line x1="204.3" y1="319.3" x2="201.9" y2="322.7" stroke="#f4f4f4" stroke-width="1.6"/>
<line x1="198.1" y1="320.4" x2="192.6" y2="319.2" stroke="#f4f4f4" stroke-width="1.6"/>
<line x1="198.1" y1="320.4" x2="196.4" y2="322.8" stroke="#f4f4f4" stroke-width="1.6"/>
<line x1="218" y1="317" x2="193.8" y2="312.9" stroke="#f4f4f4" stroke-width="3.4"/>
<line x1="204.3" y1="314.7" x2="201.9" y2="311.3" stroke="#f4f4f4" stroke-width="1.6"/>
<line x1="204.3" y1="314.7" x2="196.7" y2="316.4" stroke="#f4f4f4" stroke-width="1.6"/>
<line x1="198.0" y1="313.7" x2="196.3" y2="311.2" stroke="#f4f4f4" stroke-width="1.6"/>
<line x1="198.0" y1="313.7" x2="192.6" y2="314.9" stroke="#f4f4f4" stroke-width="1.6"/>
<line x1="218" y1="317" x2="207.9" y2="307.2" stroke="#f4f4f4" stroke-width="3.4"/>
<line x1="212.3" y1="311.4" x2="216.5" y2="308.3" stroke="#f4f4f4" stroke-width="1.6"/>
<line x1="212.3" y1="311.4" x2="203.9" y2="310.5" stroke="#f4f4f4" stroke-width="1.6"/>
<line x1="209.7" y1="308.9" x2="212.7" y2="306.7" stroke="#f4f4f4" stroke-width="1.6"/>
<line x1="209.7" y1="308.9" x2="203.7" y2="308.2" stroke="#f4f4f4" stroke-width="1.6"/>
<line x1="218" y1="317" x2="228.0" y2="307.1" stroke="#f4f4f4" stroke-width="3.4"/>
<line x1="223.6" y1="311.4" x2="232.0" y2="310.4" stroke="#f4f4f4" stroke-width="1.6"/>
<line x1="223.6" y1="311.4" x2="219.4" y2="308.3" stroke="#f4f4f4" stroke-width="1.6"/>
<line x1="226.2" y1="308.9" x2="232.2" y2="308.2" stroke="#f4f4f4" stroke-width="1.6"/>
<line x1="226.2" y1="308.9" x2="223.2" y2="306.7" stroke="#f4f4f4" stroke-width="1.6"/>
<line x1="218" y1="317" x2="242.2" y2="312.9" stroke="#f4f4f4" stroke-width="3.4"/>
<line x1="231.7" y1="314.7" x2="239.3" y2="316.4" stroke="#f4f4f4" stroke-width="1.6"/>
<line x1="231.7" y1="314.7" x2="234.1" y2="311.3" stroke="#f4f4f4" stroke-width="1.6"/>
<line x1="237.9" y1="313.6" x2="243.4" y2="314.8" stroke="#f4f4f4" stroke-width="1.6"/>
<line x1="237.9" y1="313.6" x2="239.6" y2="311.2" stroke="#f4f4f4" stroke-width="1.6"/>
<ellipse cx="218" cy="317" rx="8.1" ry="3.3" fill="#f4f4f4"/>
<path d="M230,309 L248,304 M226,326 L240,330" fill="none" stroke="#1f9a3a" stroke-width="2.5" stroke-linejoin="round"/>
<path d="M210,326 L222,326 L222,340 Q216,348 210,340 Z" fill="#4a2d9e" stroke="#2e1a70" stroke-width="1" stroke-linejoin="round"/>
<path d="M214,331 L218,333 M214,338 L218,340" fill="none" stroke="#e0d8ff" stroke-width="1" stroke-linejoin="round"/>
<path d="M223,330 L256,326 L257,341 L226,345 Z" fill="#a8a8a8" stroke="#787878" stroke-width="1" stroke-linejoin="round"/>
<path d="M227,325 L227,331 M233,324 L233,330 M239,324 L239,330 M245,323 L245,329 M251,323 L251,329" fill="none" stroke="#8c8c8c" stroke-width="2" stroke-linejoin="round"/>
<path d="M195,284 L239,290 L239,299 L195,293 Z" fill="#f28a2a" stroke="#c86a18" stroke-width="1" stroke-linejoin="round"/>
<path d="M206.5,280 L224.5,280 L224.5,288 L206.5,288 Z" fill="#8aa6d4" stroke="#5a78a8" stroke-width="1" stroke-linejoin="round"/>
<path d="M214,271.5 L221,271.5 L221,276 L220,277 L222,281 L213,281 L215,277 L214,276 Z" fill="#2f7ed0" stroke="#1f5ea0" stroke-width="1" stroke-linejoin="round"/>
<circle cx="34.5" cy="373" r="7.2" fill="url(#bgold)"/>
<path d="M33.71,377.18 L36.16,377.18 L36.16,368.82 L34.20,368.82 Q33.34,370.70 31.75,371.12 L31.75,372.79 Q32.97,372.58 33.71,371.54 Z" fill="#fff6dc"/>
<rect x="44.5" y="372.5" width="6" height="2.6" fill="#111"/>
<circle cx="61" cy="373" r="7.2" fill="url(#bgold)"/>
<text x="61" y="376.8" font-family="Liberation Sans" font-weight="bold" font-size="10.4" fill="#fff6dc" stroke="#fff6dc" stroke-width="0.58" text-anchor="middle">2</text>
<line x1="572" y1="297" x2="572" y2="489" stroke="#3aa0d8" stroke-width="1.2"/>
<polygon points="572,292 569,300 575,300" fill="#3aa0d8"/>
<polygon points="572,493 569,485 575,485" fill="#3aa0d8"/>
<polygon points="430.0,308.1 457.1,312.7 455.6,322.1 428.4,317.6" fill="#4a2ca0" stroke="#2c1878" stroke-width="5.4" stroke-linejoin="round"/>
<polygon points="430.0,308.1 457.1,312.7 455.6,322.1 428.4,317.6" fill="#4a2ca0" stroke="#4a2ca0" stroke-width="3.8" stroke-linejoin="round"/>
<polygon points="457.2,310.4 461.3,312.9 460.4,315.6 456.4,315.3" fill="#4a2ca0" stroke="#2c1878" stroke-width="0.8"/>
<polygon points="448.6,312.9 459.6,314.0 459.1,317.1 454.1,316.7" fill="#e8dcc8"/>
<line x1="438.1" y1="310.8" x2="448.6" y2="312.9" stroke="#2c1878" stroke-width="1"/>
<line x1="459" y1="317" x2="686" y2="357" stroke="#c9960e" stroke-width="9.5" stroke-linecap="butt"/>
<line x1="459" y1="317" x2="686" y2="357" stroke="#f3c318" stroke-width="6.65" stroke-linecap="butt"/>
<line x1="458.8" y1="318.1" x2="685.8" y2="358.1" stroke="#d49a10" stroke-width="1.52"/>
<line x1="459.3" y1="315.3" x2="686.3" y2="355.3" stroke="#ffe27a" stroke-width="1.90"/>
<path d="M547,327 L599,336 L599,349 L546,340 Z" fill="#f28a2a" stroke="#c86a18" stroke-width="1" stroke-linejoin="round"/>
<path d="M552,329 L562,331 M570,332 L580,334 M586,335 L596,337" fill="none" stroke="#ffb060" stroke-width="1.5" stroke-linejoin="round"/>
<polygon points="718.6,357.9 688.4,352.9 686.9,362.3 717.0,367.4" fill="#4a2ca0" stroke="#2c1878" stroke-width="5.4" stroke-linejoin="round"/>
<polygon points="718.6,357.9 688.4,352.9 686.9,362.3 717.0,367.4" fill="#4a2ca0" stroke="#4a2ca0" stroke-width="3.8" stroke-linejoin="round"/>
<polygon points="689.1,350.8 684.4,351.7 684.4,354.6 688.3,355.6" fill="#4a2ca0" stroke="#2c1878" stroke-width="0.8"/>
<polygon points="696.4,355.9 685.7,353.4 685.1,356.5 690.0,357.6" fill="#e8dcc8"/>
<line x1="709.0" y1="357.6" x2="696.4" y2="355.9" stroke="#2c1878" stroke-width="1"/>
<path d="M560,310 Q561,305 571,305 Q582,305 583,310 L583,315 Q582,320 571,320 Q561,320 560,315 Z" fill="#6586c0" stroke="#44609a" stroke-width="1" stroke-linejoin="round"/>
<ellipse cx="571.5" cy="309.5" rx="10.5" ry="4" fill="#9db8e2"/>
<ellipse cx="571" cy="309.5" rx="5.5" ry="2" fill="#4e6ca6"/>
<path d="M577,308 L584,306 L584,314 L578,313 Z" fill="#ffffff"/>
<path d="M566,365 Q566,363 573,363 Q580,363 580,365 L580,377 Q573,379 566,377 Z" fill="#a2a4aa" stroke="#6e7076" stroke-width="1" stroke-linejoin="round"/>
<ellipse cx="573" cy="365" rx="6" ry="1.8" fill="#c8cad0"/>
<path d="M566,382 Q566,380 573,380 Q580,380 580,382 L580,394 Q573,396 566,394 Z" fill="#a2a4aa" stroke="#6e7076" stroke-width="1" stroke-linejoin="round"/>
<ellipse cx="573" cy="382" rx="6" ry="1.8" fill="#c8cad0"/>
<circle cx="620" cy="389.5" r="10.8" fill="url(#bgold)"/>
<text x="620" y="395.1" font-family="Liberation Sans" font-weight="bold" font-size="15.7" fill="#fff6dc" stroke="#fff6dc" stroke-width="0.86" text-anchor="middle">2</text>
<path d="M609,424 L647,430 L647,439 L608,437 Z" fill="#a6a6a6" stroke="#777" stroke-width="1" stroke-linejoin="round"/>
<path d="M599,429 L609,428 L609,442 L599,442 Z" fill="#9c9c9c" stroke="#777" stroke-width="1" stroke-linejoin="round"/>
<path d="M613,425 L614,436 M619,426 L620,437 M625,427 L626,437 M631,428 L632,438 M637,429 L638,438 M643,429 L644,438" fill="none" stroke="#8a8a8a" stroke-width="1.5" stroke-linejoin="round"/>
<path d="M615.5,442 L648,448 L648,459 L620,465.5 L615.5,455 Z" fill="#e22020" stroke="#a01010" stroke-width="1" stroke-linejoin="round"/>
<path d="M619,448 L644,452 M620,456 L644,456" fill="none" stroke="#b81010" stroke-width="1" stroke-linejoin="round"/>
<line x1="623" y1="437" x2="635" y2="444" stroke="#137028" stroke-width="4" stroke-linecap="round"/>
<line x1="623" y1="437" x2="635" y2="444" stroke="#23a040" stroke-width="2.80" stroke-linecap="round"/>
<line x1="623.4" y1="436.4" x2="635.4" y2="443.4" stroke="#60d080" stroke-width="0.80"/>
<path d="M567.5,410 Q567.5,406 572,406 Q576.5,406 576.5,410 L576.5,440 L567.5,440 Z" fill="#2263b8" stroke="#153f80" stroke-width="1" stroke-linejoin="round"/>
<line x1="569.5" y1="410" x2="569.5" y2="438" stroke="#4a90e0" stroke-width="1.2"/>
<line x1="571" y1="442" x2="596.9" y2="448.1" stroke="#c4c4c4" stroke-width="5"/>
<line x1="585.2" y1="445.3" x2="588.0" y2="450.7" stroke="#c4c4c4" stroke-width="3"/>
<line x1="585.2" y1="445.3" x2="593.8" y2="442.6" stroke="#c4c4c4" stroke-width="3"/>
<line x1="591.7" y1="446.9" x2="593.7" y2="450.7" stroke="#c4c4c4" stroke-width="3"/>
<line x1="591.7" y1="446.9" x2="597.8" y2="444.9" stroke="#c4c4c4" stroke-width="3"/>
<line x1="571" y1="442" x2="581.8" y2="456.8" stroke="#c4c4c4" stroke-width="5"/>
<line x1="576.9" y1="450.1" x2="572.2" y2="455.0" stroke="#c4c4c4" stroke-width="3"/>
<line x1="576.9" y1="450.1" x2="586.4" y2="451.6" stroke="#c4c4c4" stroke-width="3"/>
<line x1="579.6" y1="453.8" x2="576.2" y2="457.3" stroke="#c4c4c4" stroke-width="3"/>
<line x1="579.6" y1="453.8" x2="586.4" y2="454.9" stroke="#c4c4c4" stroke-width="3"/>
<line x1="571" y1="442" x2="560.4" y2="456.8" stroke="#c4c4c4" stroke-width="5"/>
<line x1="565.1" y1="450.1" x2="555.7" y2="451.7" stroke="#c4c4c4" stroke-width="3"/>
<line x1="565.1" y1="450.1" x2="569.9" y2="455.0" stroke="#c4c4c4" stroke-width="3"/>
<line x1="562.5" y1="453.8" x2="555.8" y2="454.9" stroke="#c4c4c4" stroke-width="3"/>
<line x1="562.5" y1="453.8" x2="565.9" y2="457.3" stroke="#c4c4c4" stroke-width="3"/>
<line x1="571" y1="442" x2="545.2" y2="448.2" stroke="#c4c4c4" stroke-width="5"/>
<line x1="556.8" y1="445.4" x2="548.2" y2="442.7" stroke="#c4c4c4" stroke-width="3"/>
<line x1="556.8" y1="445.4" x2="554.1" y2="450.8" stroke="#c4c4c4" stroke-width="3"/>
<line x1="550.3" y1="446.9" x2="544.2" y2="445.0" stroke="#c4c4c4" stroke-width="3"/>
<line x1="550.3" y1="446.9" x2="548.4" y2="450.8" stroke="#c4c4c4" stroke-width="3"/>
<line x1="571" y1="442" x2="545.1" y2="435.9" stroke="#c4c4c4" stroke-width="5"/>
<line x1="556.8" y1="438.7" x2="554.0" y2="433.3" stroke="#c4c4c4" stroke-width="3"/>
<line x1="556.8" y1="438.7" x2="548.2" y2="441.4" stroke="#c4c4c4" stroke-width="3"/>
<line x1="550.3" y1="437.1" x2="548.3" y2="433.3" stroke="#c4c4c4" stroke-width="3"/>
<line x1="550.3" y1="437.1" x2="544.2" y2="439.1" stroke="#c4c4c4" stroke-width="3"/>
<line x1="571" y1="442" x2="560.2" y2="427.2" stroke="#c4c4c4" stroke-width="5"/>
<line x1="565.1" y1="433.9" x2="569.8" y2="429.0" stroke="#c4c4c4" stroke-width="3"/>
<line x1="565.1" y1="433.9" x2="555.6" y2="432.4" stroke="#c4c4c4" stroke-width="3"/>
<line x1="562.4" y1="430.2" x2="565.8" y2="426.7" stroke="#c4c4c4" stroke-width="3"/>
<line x1="562.4" y1="430.2" x2="555.6" y2="429.1" stroke="#c4c4c4" stroke-width="3"/>
<line x1="571" y1="442" x2="581.6" y2="427.2" stroke="#c4c4c4" stroke-width="5"/>
<line x1="576.9" y1="433.9" x2="586.3" y2="432.3" stroke="#c4c4c4" stroke-width="3"/>
<line x1="576.9" y1="433.9" x2="572.1" y2="429.0" stroke="#c4c4c4" stroke-width="3"/>
<line x1="579.5" y1="430.2" x2="586.2" y2="429.1" stroke="#c4c4c4" stroke-width="3"/>
<line x1="579.5" y1="430.2" x2="576.1" y2="426.7" stroke="#c4c4c4" stroke-width="3"/>
<line x1="571" y1="442" x2="596.8" y2="435.8" stroke="#c4c4c4" stroke-width="5"/>
<line x1="585.2" y1="438.6" x2="593.8" y2="441.3" stroke="#c4c4c4" stroke-width="3"/>
<line x1="585.2" y1="438.6" x2="587.9" y2="433.2" stroke="#c4c4c4" stroke-width="3"/>
<line x1="591.7" y1="437.1" x2="597.8" y2="439.0" stroke="#c4c4c4" stroke-width="3"/>
<line x1="591.7" y1="437.1" x2="593.6" y2="433.2" stroke="#c4c4c4" stroke-width="3"/>
<line x1="571" y1="442" x2="596.1" y2="447.9" stroke="#f4f4f4" stroke-width="3.4"/>
<line x1="585.2" y1="445.3" x2="587.7" y2="450.3" stroke="#f4f4f4" stroke-width="1.6"/>
<line x1="585.2" y1="445.3" x2="593.1" y2="442.8" stroke="#f4f4f4" stroke-width="1.6"/>
<line x1="591.7" y1="446.9" x2="593.5" y2="450.4" stroke="#f4f4f4" stroke-width="1.6"/>
<line x1="591.7" y1="446.9" x2="597.3" y2="445.1" stroke="#f4f4f4" stroke-width="1.6"/>
<line x1="571" y1="442" x2="581.5" y2="456.3" stroke="#f4f4f4" stroke-width="3.4"/>
<line x1="576.9" y1="450.1" x2="572.6" y2="454.6" stroke="#f4f4f4" stroke-width="1.6"/>
<line x1="576.9" y1="450.1" x2="585.6" y2="451.5" stroke="#f4f4f4" stroke-width="1.6"/>
<line x1="579.6" y1="453.8" x2="576.5" y2="457.0" stroke="#f4f4f4" stroke-width="1.6"/>
<line x1="579.6" y1="453.8" x2="585.8" y2="454.8" stroke="#f4f4f4" stroke-width="1.6"/>
<line x1="571" y1="442" x2="560.7" y2="456.4" stroke="#f4f4f4" stroke-width="3.4"/>
<line x1="565.1" y1="450.1" x2="556.5" y2="451.6" stroke="#f4f4f4" stroke-width="1.6"/>
<line x1="565.1" y1="450.1" x2="569.5" y2="454.6" stroke="#f4f4f4" stroke-width="1.6"/>
<line x1="562.5" y1="453.8" x2="556.3" y2="454.9" stroke="#f4f4f4" stroke-width="1.6"/>
<line x1="562.5" y1="453.8" x2="565.6" y2="457.1" stroke="#f4f4f4" stroke-width="1.6"/>
<line x1="571" y1="442" x2="545.9" y2="448.0" stroke="#f4f4f4" stroke-width="3.4"/>
<line x1="556.8" y1="445.4" x2="548.9" y2="442.9" stroke="#f4f4f4" stroke-width="1.6"/>
<line x1="556.8" y1="445.4" x2="554.3" y2="450.3" stroke="#f4f4f4" stroke-width="1.6"/>
<line x1="550.3" y1="446.9" x2="544.7" y2="445.2" stroke="#f4f4f4" stroke-width="1.6"/>
<line x1="550.3" y1="446.9" x2="548.6" y2="450.5" stroke="#f4f4f4" stroke-width="1.6"/>
<line x1="571" y1="442" x2="545.9" y2="436.1" stroke="#f4f4f4" stroke-width="3.4"/>
<line x1="556.8" y1="438.7" x2="554.3" y2="433.7" stroke="#f4f4f4" stroke-width="1.6"/>
<line x1="556.8" y1="438.7" x2="548.9" y2="441.2" stroke="#f4f4f4" stroke-width="1.6"/>
<line x1="550.3" y1="437.1" x2="548.5" y2="433.6" stroke="#f4f4f4" stroke-width="1.6"/>
<line x1="550.3" y1="437.1" x2="544.7" y2="438.9" stroke="#f4f4f4" stroke-width="1.6"/>
<line x1="571" y1="442" x2="560.5" y2="427.7" stroke="#f4f4f4" stroke-width="3.4"/>
<line x1="565.1" y1="433.9" x2="569.4" y2="429.4" stroke="#f4f4f4" stroke-width="1.6"/>
<line x1="565.1" y1="433.9" x2="556.4" y2="432.5" stroke="#f4f4f4" stroke-width="1.6"/>
<line x1="562.4" y1="430.2" x2="565.5" y2="427.0" stroke="#f4f4f4" stroke-width="1.6"/>
<line x1="562.4" y1="430.2" x2="556.2" y2="429.2" stroke="#f4f4f4" stroke-width="1.6"/>
<line x1="571" y1="442" x2="581.3" y2="427.6" stroke="#f4f4f4" stroke-width="3.4"/>
<line x1="576.9" y1="433.9" x2="585.5" y2="432.4" stroke="#f4f4f4" stroke-width="1.6"/>
<line x1="576.9" y1="433.9" x2="572.5" y2="429.4" stroke="#f4f4f4" stroke-width="1.6"/>
<line x1="579.5" y1="430.2" x2="585.7" y2="429.1" stroke="#f4f4f4" stroke-width="1.6"/>
<line x1="579.5" y1="430.2" x2="576.4" y2="426.9" stroke="#f4f4f4" stroke-width="1.6"/>
<line x1="571" y1="442" x2="596.1" y2="436.0" stroke="#f4f4f4" stroke-width="3.4"/>
<line x1="585.2" y1="438.6" x2="593.1" y2="441.1" stroke="#f4f4f4" stroke-width="1.6"/>
<line x1="585.2" y1="438.6" x2="587.7" y2="433.7" stroke="#f4f4f4" stroke-width="1.6"/>
<line x1="591.7" y1="437.1" x2="597.3" y2="438.8" stroke="#f4f4f4" stroke-width="1.6"/>
<line x1="591.7" y1="437.1" x2="593.4" y2="433.5" stroke="#f4f4f4" stroke-width="1.6"/>
<ellipse cx="571" cy="442" rx="8.4" ry="4.8" fill="#f4f4f4"/>
<line x1="586" y1="436" x2="609" y2="429" stroke="#137028" stroke-width="4.5" stroke-linecap="round"/>
<line x1="586" y1="436" x2="609" y2="429" stroke="#23a040" stroke-width="3.15" stroke-linecap="round"/>
<line x1="585.8" y1="435.2" x2="608.8" y2="428.2" stroke="#60d080" stroke-width="0.90"/>
<path d="M577,459 L621,463 L621,474 L577,468 Z" fill="#a6a6a6" stroke="#777" stroke-width="1" stroke-linejoin="round"/>
<path d="M581,459 L582,467 M587,460 L588,468 M593,460 L594,469 M599,461 L600,469 M605,461 L606,470 M611,462 L612,470" fill="none" stroke="#8a8a8a" stroke-width="1.5" stroke-linejoin="round"/>
<line x1="577" y1="446" x2="588" y2="453" stroke="#137028" stroke-width="4.5" stroke-linecap="round"/>
<line x1="577" y1="446" x2="588" y2="453" stroke="#23a040" stroke-width="3.15" stroke-linecap="round"/>
<line x1="577.4" y1="445.3" x2="588.4" y2="452.3" stroke="#60d080" stroke-width="0.90"/>
<line x1="607" y1="458" x2="621" y2="456" stroke="#137028" stroke-width="4" stroke-linecap="round"/>
<line x1="607" y1="458" x2="621" y2="456" stroke="#23a040" stroke-width="2.80" stroke-linecap="round"/>
<line x1="606.9" y1="457.3" x2="620.9" y2="455.3" stroke="#60d080" stroke-width="0.80"/>
<path d="M567.5,454 L576.5,454 L576.5,474 Q572,478 567.5,474 Z" fill="#2263b8" stroke="#153f80" stroke-width="1" stroke-linejoin="round"/>
<line x1="569.5" y1="456" x2="569.5" y2="472" stroke="#4a90e0" stroke-width="1.2"/>
<path d="M564,493 Q564,490 567,490 L569,490 L571,496 L573,490 L576,490 Q579,490 579,493 L579,513 Q572,520 564,513 Z" fill="#4a2d9e" stroke="#2e1a70" stroke-width="1" stroke-linejoin="round"/>
<path d="M569,503 L574,505 M568,510 L573,512" fill="none" stroke="#e0d8ff" stroke-width="1.2" stroke-linejoin="round"/>
<line x1="479" y1="485" x2="546" y2="434" stroke="#3aa0d8" stroke-width="1.2"/>
<polygon points="476,488 478,482 482,485" fill="#2a9ec8"/>
<line x1="288" y1="465" x2="325" y2="498" stroke="#c8c8c8" stroke-width="1.6"/>
<line x1="294" y1="463" x2="331" y2="495" stroke="#d8d8d8" stroke-width="1.6"/>
<line x1="310" y1="459.2" x2="473.5" y2="488.2" stroke="#d8aaaa" stroke-width="8.5" stroke-linecap="butt"/>
<line x1="310" y1="459.2" x2="473.5" y2="488.2" stroke="#f7d4d4" stroke-width="5.95" stroke-linecap="butt"/>
<line x1="310.3" y1="457.7" x2="473.8" y2="486.7" stroke="#fff0f0" stroke-width="1.70"/>
<circle cx="472" cy="488" r="3.6" fill="#e6e6e6" stroke="#b8b8b8" stroke-width="0.8"/>
<path d="M268,437 L319,443 L319,451 L268,445 Z" fill="#dfc09c" stroke="#c09a78" stroke-width="0.8" stroke-linejoin="round"/>
<path d="M256,441 Q256,437 260,437 L277,439 L276,448 L259,447 Q256,446 256,441 Z" fill="#c8e8d4" stroke="#98c4a8" stroke-width="0.8" stroke-linejoin="round"/>
<path d="M286,448 L320,450 L320,455 L286,454 Z" fill="#f2f2f2" stroke="#c8c8c8" stroke-width="0.8" stroke-linejoin="round"/>
<path d="M313,450 L330,452 Q332,455 330,457 L313,456 Z" fill="#c8e8d4" stroke="#98c4a8" stroke-width="0.8" stroke-linejoin="round"/>
<path d="M294,434 Q298,431 303,433 Q307,437 304,442 L296,442 Z" fill="#c8d4ea" stroke="#9aaacc" stroke-width="0.8" stroke-linejoin="round"/>
<ellipse cx="283" cy="460" rx="6" ry="8" fill="#b4c2e0" stroke="#8a9cc4" stroke-width="1"/>
<ellipse cx="285" cy="459" rx="3.2" ry="6" fill="#d4dcee"/>
<line x1="324.4" y1="494.8" x2="365.2" y2="517.6" stroke="#a8c8b4" stroke-width="7.4" stroke-linecap="round"/>
<line x1="328.5" y1="497.1" x2="331.6" y2="486.4" stroke="#a8c8b4" stroke-width="5.4" stroke-linecap="round"/>
<line x1="336.6" y1="501.6" x2="340.6" y2="485.2" stroke="#a8c8b4" stroke-width="5.4" stroke-linecap="round"/>
<line x1="344.8" y1="506.2" x2="349.6" y2="487.6" stroke="#a8c8b4" stroke-width="5.4" stroke-linecap="round"/>
<line x1="353.0" y1="510.8" x2="358.0" y2="493.0" stroke="#a8c8b4" stroke-width="5.4" stroke-linecap="round"/>
<line x1="361.1" y1="515.3" x2="365.2" y2="500.8" stroke="#a8c8b4" stroke-width="5.4" stroke-linecap="round"/>
<line x1="324.4" y1="494.8" x2="365.2" y2="517.6" stroke="#d4eadc" stroke-width="6.0" stroke-linecap="round"/>
<line x1="328.5" y1="497.1" x2="331.6" y2="486.4" stroke="#d4eadc" stroke-width="4.0" stroke-linecap="round"/>
<line x1="336.6" y1="501.6" x2="340.6" y2="485.2" stroke="#d4eadc" stroke-width="4.0" stroke-linecap="round"/>
<line x1="344.8" y1="506.2" x2="349.6" y2="487.6" stroke="#d4eadc" stroke-width="4.0" stroke-linecap="round"/>
<line x1="353.0" y1="510.8" x2="358.0" y2="493.0" stroke="#d4eadc" stroke-width="4.0" stroke-linecap="round"/>
<line x1="361.1" y1="515.3" x2="365.2" y2="500.8" stroke="#d4eadc" stroke-width="4.0" stroke-linecap="round"/>
<line x1="358" y1="514.2" x2="513" y2="540.7" stroke="#d8aaaa" stroke-width="8.5" stroke-linecap="butt"/>
<line x1="358" y1="514.2" x2="513" y2="540.7" stroke="#f7d4d4" stroke-width="5.95" stroke-linecap="butt"/>
<line x1="358.3" y1="512.7" x2="513.3" y2="539.2" stroke="#fff0f0" stroke-width="1.70"/>
<line x1="515.4" y1="539.4" x2="552.6" y2="562.2" stroke="#a8c8b4" stroke-width="7.4" stroke-linecap="round"/>
<line x1="519.1" y1="541.7" x2="510.6" y2="550.2" stroke="#a8c8b4" stroke-width="5.4" stroke-linecap="round"/>
<line x1="526.6" y1="546.2" x2="520.2" y2="557.4" stroke="#a8c8b4" stroke-width="5.4" stroke-linecap="round"/>
<line x1="534.0" y1="550.8" x2="529.8" y2="561.0" stroke="#a8c8b4" stroke-width="5.4" stroke-linecap="round"/>
<line x1="541.4" y1="555.4" x2="539.4" y2="562.2" stroke="#a8c8b4" stroke-width="5.4" stroke-linecap="round"/>
<line x1="548.9" y1="559.9" x2="547.8" y2="565.8" stroke="#a8c8b4" stroke-width="5.4" stroke-linecap="round"/>
<line x1="515.4" y1="539.4" x2="552.6" y2="562.2" stroke="#d4eadc" stroke-width="6.0" stroke-linecap="round"/>
<line x1="519.1" y1="541.7" x2="510.6" y2="550.2" stroke="#d4eadc" stroke-width="4.0" stroke-linecap="round"/>
<line x1="526.6" y1="546.2" x2="520.2" y2="557.4" stroke="#d4eadc" stroke-width="4.0" stroke-linecap="round"/>
<line x1="534.0" y1="550.8" x2="529.8" y2="561.0" stroke="#d4eadc" stroke-width="4.0" stroke-linecap="round"/>
<line x1="541.4" y1="555.4" x2="539.4" y2="562.2" stroke="#d4eadc" stroke-width="4.0" stroke-linecap="round"/>
<line x1="548.9" y1="559.9" x2="547.8" y2="565.8" stroke="#d4eadc" stroke-width="4.0" stroke-linecap="round"/>
<circle cx="403" cy="497" r="6.8" fill="url(#bgray)"/>
<path d="M402.25,500.94 L404.56,500.94 L404.56,493.06 L402.71,493.06 Q401.91,494.83 400.40,495.23 L400.40,496.80 Q401.56,496.61 402.25,495.62 Z" fill="#fff6dc"/>
<path d="M140,118 L200,128 L250,122 L255,150 L240,170 L215,168 L195,205 L160,195 L145,150 Z" fill="#ececec"/>
<line x1="150" y1="109" x2="262" y2="121" stroke="#c89a18" stroke-width="5" stroke-linecap="butt"/>
<line x1="150" y1="109" x2="262" y2="121" stroke="#f0c040" stroke-width="3.50" stroke-linecap="butt"/>
<line x1="200" y1="101" x2="262" y2="116" stroke="#b88e10" stroke-width="6" stroke-linecap="butt"/>
<line x1="200" y1="101" x2="262" y2="116" stroke="#f2c22a" stroke-width="4.20" stroke-linecap="butt"/>
<line x1="116" y1="100" x2="160" y2="176" stroke="#c8c8c8" stroke-width="2"/>
<line x1="122" y1="99" x2="166" y2="174" stroke="#dedede" stroke-width="2"/>
<line x1="141" y1="120" x2="170" y2="190" stroke="#cfcfcf" stroke-width="2.5"/>
<line x1="147" y1="122" x2="176" y2="188" stroke="#e2e2e2" stroke-width="2"/>
<path d="M111,95 L123,94 L129,111 L118,113 Z" fill="#e4e4e4" stroke="#a8a8a8" stroke-width="1" stroke-linejoin="round"/>
<path d="M114,99 L124,98 M116,105 L126,104" fill="none" stroke="#b0b0b0" stroke-width="1" stroke-linejoin="round"/>
<path d="M128,86 Q130,80 140,81 Q148,83 146,90 Q143,95 134,94 Q127,92 128,86 Z" fill="#9ab6e2" stroke="#5f80b8" stroke-width="1.2" stroke-linejoin="round"/>
<line x1="110" y1="83" x2="129" y2="86" stroke="#c07830" stroke-width="5" stroke-linecap="butt"/>
<line x1="110" y1="83" x2="129" y2="86" stroke="#f0a050" stroke-width="3.50" stroke-linecap="butt"/>
<line x1="108" y1="82" x2="114" y2="83" stroke="#13702a" stroke-width="6" stroke-linecap="round"/>
<line x1="108" y1="82" x2="114" y2="83" stroke="#22a03c" stroke-width="4.20" stroke-linecap="round"/>
<path d="M130,88 Q137,85 144,89 L142,94 L131,93 Z" fill="#22a03c" stroke="#13702a" stroke-width="0.8" stroke-linejoin="round"/>
<path d="M94,91 Q94,84 103,84 L114,84 Q117,90 114,96 L102,97 Q94,97 94,91 Z" fill="#9ab8e6" stroke="#5878b0" stroke-width="1.2" stroke-linejoin="round"/>
<rect x="101" y="88" width="13" height="5" fill="#f2f2f2"/>
<line x1="117" y1="92" x2="200" y2="113.5" stroke="#7e1012" stroke-width="8.5" stroke-linecap="butt"/>
<line x1="117" y1="92" x2="200" y2="113.5" stroke="#bf1c20" stroke-width="5.95" stroke-linecap="butt"/>
<line x1="117.4" y1="90.5" x2="200.4" y2="112.0" stroke="#d84040" stroke-width="1.70"/>
<path d="M125,122 L135,117 L144,126 L149,139 L143,148 L133,145 L127,134 Z" fill="#17762e" stroke="#0c4e1a" stroke-width="1" stroke-linejoin="round"/>
<line x1="126.0" y1="121.0" x2="139.0" y2="147.0" stroke="#0c5a1e" stroke-width="6.4" stroke-linecap="round"/>
<line x1="127.3" y1="123.6" x2="135.0" y2="115.0" stroke="#0c5a1e" stroke-width="5.4" stroke-linecap="round"/>
<line x1="129.9" y1="128.8" x2="142.0" y2="122.0" stroke="#0c5a1e" stroke-width="5.4" stroke-linecap="round"/>
<line x1="132.5" y1="134.0" x2="147.0" y2="130.0" stroke="#0c5a1e" stroke-width="5.4" stroke-linecap="round"/>
<line x1="135.1" y1="139.2" x2="150.0" y2="139.0" stroke="#0c5a1e" stroke-width="5.4" stroke-linecap="round"/>
<line x1="137.7" y1="144.4" x2="147.0" y2="147.0" stroke="#0c5a1e" stroke-width="5.4" stroke-linecap="round"/>
<line x1="126.0" y1="121.0" x2="139.0" y2="147.0" stroke="#1d8c36" stroke-width="5.0" stroke-linecap="round"/>
<line x1="127.3" y1="123.6" x2="135.0" y2="115.0" stroke="#1d8c36" stroke-width="4.0" stroke-linecap="round"/>
<line x1="129.9" y1="128.8" x2="142.0" y2="122.0" stroke="#1d8c36" stroke-width="4.0" stroke-linecap="round"/>
<line x1="132.5" y1="134.0" x2="147.0" y2="130.0" stroke="#1d8c36" stroke-width="4.0" stroke-linecap="round"/>
<line x1="135.1" y1="139.2" x2="150.0" y2="139.0" stroke="#1d8c36" stroke-width="4.0" stroke-linecap="round"/>
<line x1="137.7" y1="144.4" x2="147.0" y2="147.0" stroke="#1d8c36" stroke-width="4.0" stroke-linecap="round"/>
<line x1="130.4" y1="120.2" x2="135.0" y2="115.0" stroke="#4cb868" stroke-width="0.9"/>
<line x1="134.7" y1="126.1" x2="142.0" y2="122.0" stroke="#4cb868" stroke-width="0.9"/>
<line x1="138.3" y1="132.4" x2="147.0" y2="130.0" stroke="#4cb868" stroke-width="0.9"/>
<line x1="141.1" y1="139.1" x2="150.0" y2="139.0" stroke="#4cb868" stroke-width="0.9"/>
<line x1="141.4" y1="145.4" x2="147.0" y2="147.0" stroke="#4cb868" stroke-width="0.9"/>
<line x1="129.0" y1="127.0" x2="138.0" y2="143.0" stroke="#0c5a1e" stroke-width="4.4" stroke-linecap="round"/>
<line x1="130.5" y1="129.7" x2="139.0" y2="122.0" stroke="#0c5a1e" stroke-width="4.4" stroke-linecap="round"/>
<line x1="133.5" y1="135.0" x2="144.0" y2="130.0" stroke="#0c5a1e" stroke-width="4.4" stroke-linecap="round"/>
<line x1="136.5" y1="140.3" x2="147.0" y2="138.0" stroke="#0c5a1e" stroke-width="4.4" stroke-linecap="round"/>
<line x1="129.0" y1="127.0" x2="138.0" y2="143.0" stroke="#1a8232" stroke-width="3.0" stroke-linecap="round"/>
<line x1="130.5" y1="129.7" x2="139.0" y2="122.0" stroke="#1a8232" stroke-width="3.0" stroke-linecap="round"/>
<line x1="133.5" y1="135.0" x2="144.0" y2="130.0" stroke="#1a8232" stroke-width="3.0" stroke-linecap="round"/>
<line x1="136.5" y1="140.3" x2="147.0" y2="138.0" stroke="#1a8232" stroke-width="3.0" stroke-linecap="round"/>
<path d="M139,142 L155,146 L154,152 L140,150 Z" fill="#b81a1a" stroke="#801010" stroke-width="1" stroke-linejoin="round"/>
<path d="M207,140 L226,134 L246,158 L244,168 L222,165 Z" fill="#c81c1c" stroke="#901010" stroke-width="1" stroke-linejoin="round"/>
<line x1="212" y1="152" x2="242" y2="162" stroke="#1d8a34" stroke-width="3"/>
<line x1="214" y1="140" x2="240" y2="152" stroke="#e83030" stroke-width="3"/>
<line x1="218" y1="160" x2="230" y2="140" stroke="#a01010" stroke-width="2.5"/>
<path d="M206,137 L213,137 L213,147 L206,147 Z" fill="#4a2d9e"/>
<path d="M140,107 Q146,104 160,108 L176,118 L174,131 L158,124 Q142,118 138,114 Z" fill="#e2e2e2" stroke="#a8a8a8" stroke-width="1" stroke-linejoin="round"/>
<path d="M147,111 L157,112 L158,117 L148,117 Z" fill="#22a03c"/>
<path d="M174,118 L204,123 L206,137 L176,132 Z" fill="#a8a8a8" stroke="#787878" stroke-width="1" stroke-linejoin="round"/>
<path d="M183,121 L191,122 L191,128 L183,127 Z" fill="#22a03c"/>
<path d="M204,113 L240,113 L242,124 L206,125 Z" fill="#ececec" stroke="#b8b8b8" stroke-width="1" stroke-linejoin="round"/>
<path d="M210,116 L212,123 M216,116 L218,123 M222,116 L224,123 M228,116 L230,123" fill="none" stroke="#c0c0c0" stroke-width="1" stroke-linejoin="round"/>
<path d="M232,118 L240,118 L240,123 L232,123 Z" fill="#22a03c"/>
<path d="M216,124 L253,122 L254,136 L218,138 Z" fill="#e22020" stroke="#a01010" stroke-width="1" stroke-linejoin="round"/>
<path d="M238,112 L266,116 L270,124 L240,121 Z" fill="#a8a8a8" stroke="#787878" stroke-width="1" stroke-linejoin="round"/>
<polygon points="154.0,115.0 154.0,115.0 155.5,114.6 157.0,114.2 156.6,112.5 158.1,112.1 160.0,113.5 160.0,113.5 161.5,113.1 163.0,112.8 162.6,111.0 164.1,110.6 166.0,112.0 166.0,112.0 167.4,112.4 168.8,112.8 169.3,111.1 170.7,111.5 171.6,113.6 171.6,113.6 173.0,114.0 174.4,114.4 174.9,112.7 176.3,113.1 177.2,115.2 177.2,115.2 178.6,115.6 180.0,116.0 180.0,116.0 179.8,117.5 179.5,119.0 181.3,119.3 181.0,120.8 179.0,122.0 179.0,122.0 178.8,123.5 178.5,125.0 180.3,125.3 180.0,126.8 178.0,128.0 178.0,128.0 177.6,129.5 177.2,131.0 179.0,131.4 178.6,132.9 176.5,134.0 176.5,134.0 176.1,135.5 175.8,137.0 177.5,137.4 177.1,138.9 175.0,140.0 175.0,140.0 174.8,141.3 174.7,142.7 176.5,142.9 176.3,144.2 174.3,145.3 174.3,145.3 174.2,146.7 174.0,148.0 174.0,148.0 174.7,149.3 175.3,150.7 176.9,149.9 177.6,151.2 176.7,153.3 176.7,153.3 177.3,154.7 178.0,156.0 178.0,156.0 178.8,157.3 179.7,158.7 181.2,157.7 182.0,159.0 181.3,161.3 181.3,161.3 182.2,162.7 183.0,164.0 183.0,164.0 182.8,165.5 182.7,167.0 184.5,167.2 184.3,168.7 182.3,170.0 182.3,170.0 182.2,171.5 182.0,173.0 182.0,173.0 180.6,172.9 179.2,172.8 179.1,174.6 177.7,174.5 176.4,172.6 176.4,172.6 175.0,172.5 173.6,172.4 173.5,174.2 172.1,174.1 170.8,172.2 170.8,172.2 169.4,172.1 168.0,172.0 168.0,172.0 166.6,171.6 165.2,171.2 164.7,172.9 163.3,172.5 162.4,170.4 162.4,170.4 161.0,170.0 159.6,169.6 159.1,171.3 157.7,170.9 156.8,168.8 156.8,168.8 155.4,168.4 154.0,168.0 154.0,168.0 154.4,166.8 154.8,165.5 153.0,165.0 153.4,163.7 155.5,163.0 155.5,163.0 155.9,161.8 156.2,160.5 154.5,160.0 154.9,158.7 157.0,158.0 157.0,158.0 157.5,156.8 158.0,155.5 156.3,154.8 156.8,153.6 159.0,153.0 159.0,153.0 159.5,151.8 160.0,150.5 158.3,149.8 158.8,148.6 161.0,148.0 161.0,148.0 160.8,146.3 160.7,144.7 158.9,144.8 158.7,143.2 160.3,141.3 160.3,141.3 160.2,139.7 160.0,138.0 160.0,138.0 159.6,136.5 159.2,135.0 157.5,135.4 157.1,133.9 158.5,132.0 158.5,132.0 158.1,130.5 157.8,129.0 156.0,129.4 155.6,127.9 157.0,126.0 157.0,126.0 156.6,124.6 156.2,123.2 154.5,123.7 154.1,122.3 155.5,120.5 155.5,120.5 155.1,119.1 154.8,117.8 153.0,118.2 152.6,116.8" fill="#f0c430" stroke="#b8920a" stroke-width="1" stroke-linejoin="round"/>
<path d="M159,116 L162,128 M165,114 L166,127 M171,115 L170,128 M177,118 L173,130 M160,156 L158,168 M166,150 L164,166 M172,152 L173,168 M178,158 L180,170 M162,132 L163,146 M171,132 L170,146" fill="none" stroke="#c89410" stroke-width="1.3" stroke-linejoin="round"/>
<path d="M157,122 L163,124 M170,120 L177,122 M157,162 L164,164 M172,160 L180,163" fill="none" stroke="#fde080" stroke-width="1" stroke-linejoin="round"/>
<line x1="154" y1="168" x2="182" y2="174" stroke="#b08410" stroke-width="2"/>
<line x1="164" y1="134" x2="167" y2="160" stroke="#2a9a3a" stroke-width="2.5"/>
<path d="M150,110 L160,112 L159,118 L149,116 Z" fill="#22a03c"/>
<path d="M172,166 L183,168 L183,173 L172,171 Z" fill="#22a03c"/>
<polygon points="184.0,136.0 184.0,136.0 185.4,136.2 186.8,136.4 187.1,134.6 188.5,134.8 189.6,136.8 189.6,136.8 191.0,137.0 192.4,137.2 192.7,135.4 194.1,135.6 195.2,137.6 195.2,137.6 196.6,137.8 198.0,138.0 198.0,138.0 198.3,139.3 198.7,140.7 200.4,140.2 200.7,141.6 199.3,143.3 199.3,143.3 199.7,144.7 200.0,146.0 200.0,146.0 199.2,147.2 198.3,148.3 199.8,149.4 199.0,150.5 196.7,150.7 196.7,150.7 195.8,151.8 195.0,153.0 195.0,153.0 193.7,152.8 192.3,152.7 192.1,154.5 190.8,154.3 189.7,152.3 189.7,152.3 188.3,152.2 187.0,152.0 187.0,152.0 186.3,150.8 185.7,149.7 184.1,150.6 183.4,149.4 184.3,147.3 184.3,147.3 183.7,146.2 183.0,145.0 183.0,145.0 183.2,143.5 183.3,142.0 181.5,141.8 181.7,140.3 183.7,139.0 183.7,139.0 183.8,137.5" fill="#a8a8a8" stroke="#787878" stroke-width="1" stroke-linejoin="round"/>
<path d="M186,140 L196,150 M196,140 L188,150" fill="none" stroke="#8a8a8a" stroke-width="1" stroke-linejoin="round"/>
<path d="M246,121 L268,119 L270,126 L248,128 Z" fill="#a8a8a8" stroke="#787878" stroke-width="1" stroke-linejoin="round"/>
<path d="M248,126 L268,124 L267,138 L258,144 L250,138 Z" fill="#9c9c9c" stroke="#777" stroke-width="0.8" stroke-linejoin="round"/>
<line x1="248.0" y1="125.0" x2="268.0" y2="123.0" stroke="#777777" stroke-width="5.4" stroke-linecap="round"/>
<line x1="250.0" y1="124.8" x2="248.0" y2="137.0" stroke="#777777" stroke-width="5.4" stroke-linecap="round"/>
<line x1="254.0" y1="124.4" x2="253.0" y2="142.0" stroke="#777777" stroke-width="5.4" stroke-linecap="round"/>
<line x1="258.0" y1="124.0" x2="258.0" y2="144.0" stroke="#777777" stroke-width="5.4" stroke-linecap="round"/>
<line x1="262.0" y1="123.6" x2="263.0" y2="141.0" stroke="#777777" stroke-width="5.4" stroke-linecap="round"/>
<line x1="266.0" y1="123.2" x2="268.0" y2="136.0" stroke="#777777" stroke-width="5.4" stroke-linecap="round"/>
<line x1="248.0" y1="125.0" x2="268.0" y2="123.0" stroke="#a8a8a8" stroke-width="4.0" stroke-linecap="round"/>
<line x1="250.0" y1="124.8" x2="248.0" y2="137.0" stroke="#a8a8a8" stroke-width="4.0" stroke-linecap="round"/>
<line x1="254.0" y1="124.4" x2="253.0" y2="142.0" stroke="#a8a8a8" stroke-width="4.0" stroke-linecap="round"/>
<line x1="258.0" y1="124.0" x2="258.0" y2="144.0" stroke="#a8a8a8" stroke-width="4.0" stroke-linecap="round"/>
<line x1="262.0" y1="123.6" x2="263.0" y2="141.0" stroke="#a8a8a8" stroke-width="4.0" stroke-linecap="round"/>
<line x1="266.0" y1="123.2" x2="268.0" y2="136.0" stroke="#a8a8a8" stroke-width="4.0" stroke-linecap="round"/>
<path d="M181,155 L195,158 L194,163 L181,161 Z" fill="#b01818"/>
<line x1="172" y1="180" x2="201" y2="159" stroke="#c8c8c8" stroke-width="3.5"/>
<line x1="172" y1="180" x2="201" y2="159" stroke="#f0f0f0" stroke-width="2"/>
<line x1="177" y1="191" x2="204" y2="167" stroke="#c8c8c8" stroke-width="3.5"/>
<line x1="177" y1="191" x2="204" y2="167" stroke="#f0f0f0" stroke-width="2"/>
<line x1="204" y1="148" x2="182" y2="205" stroke="#c4c4c4" stroke-width="3.5"/>
<line x1="204" y1="148" x2="182" y2="205" stroke="#eeeeee" stroke-width="2"/>
<line x1="199" y1="153" x2="212" y2="177" stroke="#c8c8c8" stroke-width="3.5"/>
<line x1="199" y1="153" x2="212" y2="177" stroke="#f0f0f0" stroke-width="2"/>
<line x1="246" y1="145" x2="266" y2="178" stroke="#c8c8c8" stroke-width="3.5"/>
<line x1="246" y1="145" x2="266" y2="178" stroke="#eeeeee" stroke-width="2"/>
<path d="M199,127 Q236,134 250,190" fill="none" stroke="#b87e10" stroke-width="6"/>
<path d="M199,127 Q236,134 250,190" fill="none" stroke="#f2b030" stroke-width="3.5"/>
<path d="M199,127 Q236,134 250,190" fill="none" stroke="#f8d070" stroke-width="1"/>
<path d="M259,117 Q306,126 318,182" fill="none" stroke="#b87e10" stroke-width="6"/>
<path d="M259,117 Q306,126 318,182" fill="none" stroke="#f2b030" stroke-width="3.5"/>
<path d="M259,117 Q306,126 318,182" fill="none" stroke="#f8d070" stroke-width="1"/>
<path d="M227,189 L247,189 L250,203 L228,203 Z" fill="#e6e6e6" stroke="#b0b0b0" stroke-width="1" stroke-linejoin="round"/>
<path d="M290,203 L314,209 L313,217 L289,212 Z" fill="#e6e6e6" stroke="#a8a8a8" stroke-width="1" stroke-linejoin="round"/>
<polygon points="209.0,163.0 209.0,163.0 211.0,162.2 213.0,161.5 211.9,158.7 213.9,157.9 217.0,160.0 217.0,160.0 218.7,160.7 220.3,161.3 221.4,158.5 223.1,159.2 223.7,162.7 223.7,162.7 225.3,163.3 227.0,164.0 227.0,164.0 228.0,165.5 229.0,167.0 231.5,165.3 232.5,166.8 231.0,170.0 231.0,170.0 232.5,172.0 234.0,174.0 236.4,172.2 237.9,174.2 237.0,178.0 237.0,178.0 238.0,179.8 239.0,181.7 241.6,180.2 242.6,182.1 241.0,185.3 241.0,185.3 242.0,187.2 243.0,189.0 243.0,189.0 241.2,189.5 239.5,190.0 240.3,192.9 238.6,193.4 236.0,191.0 236.0,191.0 234.2,191.5 232.5,192.0 233.3,194.9 231.6,195.4 229.0,193.0 229.0,193.0 229.5,194.8 230.0,196.5 232.9,195.7 233.4,197.4 231.0,200.0 231.0,200.0 231.5,201.8 232.0,203.5 234.9,202.7 235.4,204.4 233.0,207.0 233.0,207.0 231.3,208.5 229.7,210.0 231.7,212.2 230.0,213.7 226.3,213.0 226.3,213.0 224.7,214.5 223.0,216.0 223.0,216.0 221.2,215.2 219.5,214.5 218.3,217.3 216.6,216.5 216.0,213.0 216.0,213.0 214.2,212.2 212.5,211.5 211.3,214.3 209.6,213.5 209.0,210.0 209.0,210.0 209.7,207.8 210.3,205.7 207.5,204.8 208.1,202.6 211.7,201.3 211.7,201.3 212.3,199.2 213.0,197.0 213.0,197.0 211.0,196.6 209.0,196.2 208.4,199.1 206.4,198.7 205.0,195.4 205.0,195.4 203.0,195.0 201.0,194.6 200.4,197.5 198.4,197.1 197.0,193.8 197.0,193.8 195.0,193.4 193.0,193.0 193.0,193.0 193.0,190.5 193.0,188.0 190.0,188.0 190.0,185.5 193.0,183.0 193.0,183.0 194.9,182.4 196.8,181.8 195.8,178.9 197.7,178.3 200.5,180.5 200.5,180.5 202.4,179.9 204.2,179.2 203.3,176.4 205.2,175.8 208.0,178.0 208.0,178.0 208.1,176.1 208.2,174.2 205.3,174.1 205.4,172.2 208.5,170.5 208.5,170.5 208.6,168.6 208.8,166.8 205.8,166.6 205.9,164.7" fill="#2160b4" stroke="#123e7e" stroke-width="1" stroke-linejoin="round"/>
<path d="M212,166 L219,186 M222,164 L220,184 M230,172 L222,186 M238,184 L224,189 M198,186 L214,189 M200,192 L214,191 M216,212 L219,194 M226,210 L221,194" fill="none" stroke="#4a90e0" stroke-width="1.3" stroke-linejoin="round"/>
<path d="M208,170 L217,187 M217,163 L219,184 M234,178 L222,187 M196,190 L214,190 M212,206 L219,193 M230,204 L221,193" fill="none" stroke="#123a78" stroke-width="1.1" stroke-linejoin="round"/>
<path d="M260,184 Q262,180 272,181 L283,183 L283,196 Q275,200 264,197 Q259,192 260,184 Z" fill="#e42424" stroke="#a01515" stroke-width="1" stroke-linejoin="round"/>
<polygon points="271.0,156.0 271.0,156.0 273.0,156.2 275.0,156.3 275.2,153.3 277.2,153.5 279.0,156.7 279.0,156.7 281.0,156.8 283.0,157.0 283.0,157.0 284.7,157.7 286.3,158.3 287.4,155.5 289.1,156.2 289.7,159.7 289.7,159.7 291.3,160.3 293.0,161.0 293.0,161.0 293.0,163.5 293.0,166.0 296.0,166.0 296.0,168.5 293.0,171.0 293.0,171.0 294.9,171.8 296.8,172.5 297.9,169.7 299.7,170.5 300.5,174.0 300.5,174.0 302.4,174.8 304.2,175.5 305.4,172.7 307.2,173.5 308.0,177.0 308.0,177.0 307.5,180.0 307.0,183.0 307.0,183.0 304.9,182.9 302.8,182.8 302.6,185.7 300.4,185.6 298.5,182.5 298.5,182.5 296.4,182.4 294.2,182.2 294.1,185.2 291.9,185.1 290.0,182.0 290.0,182.0 290.7,183.8 291.4,185.6 294.2,184.5 294.9,186.3 292.8,189.2 292.8,189.2 293.5,191.0 294.2,192.8 297.0,191.7 297.7,193.5 295.6,196.4 295.6,196.4 296.3,198.2 297.0,200.0 297.0,200.0 295.2,201.0 293.3,202.0 294.8,204.6 292.9,205.6 289.7,204.0 289.7,204.0 287.8,205.0 286.0,206.0 286.0,206.0 284.4,205.2 282.8,204.5 281.5,207.2 279.9,206.5 279.5,203.0 279.5,203.0 277.9,202.2 276.2,201.5 275.0,204.2 273.4,203.5 273.0,200.0 273.0,200.0 274.7,199.3 276.3,198.7 277.4,201.5 279.1,200.8 279.7,197.3 279.7,197.3 281.3,196.7 283.0,196.0 283.0,196.0 283.0,193.8 283.0,191.7 280.0,191.7 280.0,189.5 283.0,187.3 283.0,187.3 283.0,185.2 283.0,183.0 283.0,183.0 281.1,182.4 279.2,181.8 278.3,184.6 276.4,184.0 275.5,180.5 275.5,180.5 273.6,179.9 271.8,179.2 270.8,182.1 268.9,181.5 268.0,178.0 268.0,178.0 266.2,177.7 264.3,177.3 263.8,180.3 262.0,180.0 260.7,176.7 260.7,176.7 258.8,176.3 257.0,176.0 257.0,176.0 258.8,174.7 260.7,173.3 258.9,170.9 260.7,169.6 264.3,170.7 264.3,170.7 266.2,169.3 268.0,168.0 268.0,168.0 268.5,166.0 269.0,164.0 266.1,163.3 266.6,161.3 270.0,160.0 270.0,160.0 270.5,158.0" fill="#2160b4" stroke="#123e7e" stroke-width="1" stroke-linejoin="round"/>
<path d="M275,160 L281,178 M286,159 L283,178 M292,166 L285,179 M304,179 L288,181 M262,174 L278,180 M289,202 L284,186 M295,196 L286,185" fill="none" stroke="#4a90e0" stroke-width="1.3" stroke-linejoin="round"/>
<path d="M271,162 L280,180 M290,162 L284,179 M300,177 L287,181 M284,204 L283,186" fill="none" stroke="#123a78" stroke-width="1.1" stroke-linejoin="round"/>
<path d="M242,180 L250,178 L266,203 Q266,211 258,209 L245,191 Z" fill="#ececec" stroke="#a8a8a8" stroke-width="1" stroke-linejoin="round"/>
<path d="M311,170 L320,170 L330,196 Q328,202 321,199 L312,185 Z" fill="#ececec" stroke="#a8a8a8" stroke-width="1" stroke-linejoin="round"/>
<path d="M293,183 L313,186 L313,194 L293,193 Z" fill="#e4e4e4" stroke="#b0b0b0" stroke-width="0.8" stroke-linejoin="round"/>
<path d="M155,195 L136,203 Q129,208 136,213 L172,227" fill="none" stroke="#a0a0a0" stroke-width="11" stroke-linejoin="round" stroke-linecap="round"/>
<path d="M155,195 L136,203 Q129,208 136,213 L172,227" fill="none" stroke="#e8e8e8" stroke-width="8" stroke-linejoin="round" stroke-linecap="round"/>
<path d="M153,193 L134,201 Q127,207 133,211" fill="none" stroke="#f8f8f8" stroke-width="2" stroke-linecap="round"/>
<path d="M139,207 L150,209 L149,214 L138,212 Z" fill="#22a03c"/>
<polygon points="154.0,203.0 154.0,203.0 155.5,202.3 157.0,201.7 156.3,200.0 157.8,199.4 160.0,200.3 160.0,200.3 161.5,199.7 163.0,199.0 163.0,199.0 164.5,198.8 166.0,198.7 165.8,196.9 167.3,196.7 169.0,198.3 169.0,198.3 170.5,198.2 172.0,198.0 172.0,198.0 173.5,198.5 175.0,199.0 175.6,197.3 177.1,197.8 178.0,200.0 178.0,200.0 179.5,200.5 181.0,201.0 181.0,201.0 181.3,202.5 181.7,204.0 183.4,203.6 183.8,205.1 182.3,207.0 182.3,207.0 182.7,208.5 183.0,210.0 183.0,210.0 182.7,211.7 182.3,213.3 184.1,213.7 183.8,215.4 181.7,216.7 181.7,216.7 181.3,218.3 181.0,220.0 181.0,220.0 180.2,221.2 179.3,222.3 180.8,223.4 180.0,224.5 177.7,224.7 177.7,224.7 176.8,225.8 176.0,227.0 176.0,227.0 174.7,226.6 173.3,226.2 172.8,227.9 171.5,227.5 170.7,225.3 170.7,225.3 169.3,224.9 168.0,224.5 167.5,226.2 166.1,225.8 165.3,223.7 165.3,223.7 164.0,223.2 162.7,222.8 162.1,224.6 160.8,224.1 160.0,222.0 160.0,222.0 158.8,221.2 157.5,220.5 156.6,222.0 155.3,221.3 155.0,219.0 155.0,219.0 153.8,218.2 152.5,217.5 151.6,219.0 150.3,218.3 150.0,216.0 150.0,216.0 150.4,214.7 150.8,213.4 149.1,212.9 149.5,211.6 151.6,210.8 151.6,210.8 152.0,209.5 152.4,208.2 150.7,207.7 151.1,206.4 153.2,205.6 153.2,205.6 153.6,204.3" fill="#f0c430" stroke="#b8920a" stroke-width="1" stroke-linejoin="round"/>
<path d="M156,204 L160,218 M163,201 L166,219 M170,200 L172,222 M177,203 L177,222" fill="none" stroke="#c89410" stroke-width="1.3" stroke-linejoin="round"/>
<path d="M155,208 L162,210 M168,206 L176,208" fill="none" stroke="#fde080" stroke-width="1" stroke-linejoin="round"/>
<line x1="166" y1="206" x2="184" y2="186" stroke="#2a9a3a" stroke-width="2.5"/>
<line x1="168" y1="224" x2="189" y2="234" stroke="#a8a8a8" stroke-width="7" stroke-linecap="round"/>
<line x1="168" y1="224" x2="189" y2="234" stroke="#ececec" stroke-width="4.90" stroke-linecap="round"/>
<path d="M199,88 L213,88 L213,113 Q206,116 199,113 Z" fill="#aaadb6" stroke="#80838a" stroke-width="1" stroke-linejoin="round"/>
<polygon points="135.6,64.6 152.8,67.6 151.9,73.1 134.7,70.1" fill="#4a2ca0" stroke="#2c1878" stroke-width="5.4" stroke-linejoin="round"/>
<polygon points="135.6,64.6 152.8,67.6 151.9,73.1 134.7,70.1" fill="#4a2ca0" stroke="#4a2ca0" stroke-width="3.8" stroke-linejoin="round"/>
<polygon points="152.9,65.4 157.1,67.4 156.3,69.3 152.3,68.9" fill="#4a2ca0" stroke="#2c1878" stroke-width="0.8"/>
<polygon points="144.5,66.7 155.4,68.1 155.1,70.4 150.1,69.7" fill="#e8dcc8"/>
<line x1="140.4" y1="65.8" x2="144.5" y2="66.7" stroke="#2c1878" stroke-width="1"/>
<line x1="152" y1="67.5" x2="266" y2="102.5" stroke="#9a7010" stroke-width="8.5" stroke-linecap="butt"/>
<line x1="152" y1="67.5" x2="266" y2="102.5" stroke="#f0c020" stroke-width="5.95" stroke-linecap="butt"/>
<line x1="151.7" y1="68.5" x2="265.7" y2="103.5" stroke="#d49a10" stroke-width="1.36"/>
<line x1="152.4" y1="66.0" x2="266.4" y2="101.0" stroke="#ffe070" stroke-width="1.70"/>
<polygon points="289.4,103.4 266.2,99.4 265.1,105.9 288.3,109.9" fill="#4a2ca0" stroke="#2c1878" stroke-width="5.4" stroke-linejoin="round"/>
<polygon points="289.4,103.4 266.2,99.4 265.1,105.9 288.3,109.9" fill="#4a2ca0" stroke="#4a2ca0" stroke-width="3.8" stroke-linejoin="round"/>
<polygon points="266.9,97.3 262.3,97.8 262.4,100.1 266.3,101.0" fill="#4a2ca0" stroke="#2c1878" stroke-width="0.8"/>
<polygon points="274.3,101.6 263.5,99.2 263.1,101.6 268.0,102.7" fill="#e8dcc8"/>
<line x1="282.4" y1="102.7" x2="274.3" y2="101.6" stroke="#2c1878" stroke-width="1"/>
<path d="M190,81 L216,85 L216,93 L190,89 Z" fill="#f28a2a" stroke="#c86a18" stroke-width="1" stroke-linejoin="round"/>
<path d="M197,72 L216,72 L216,82 L197,82 Z" fill="#7d9cd0" stroke="#5a78a8" stroke-width="1" stroke-linejoin="round"/>
<path d="M203,60 L211,60 L211,66 L209,68 L212,73 L202,73 L204,68 L202,66 Z" fill="#2f7ed0" stroke="#1f5ea0" stroke-width="1" stroke-linejoin="round"/></g>
<path d="M20.2,577.5 L22.8,577.5 L22.8,568 L20.8,568 Q20,570 17.8,570.8 L17.8,572.6 Q19.2,572.3 20.2,571.4 Z" fill="#1a1a1a"/>
</svg>
<div class="title">Helicopter</div>
</body></html>
